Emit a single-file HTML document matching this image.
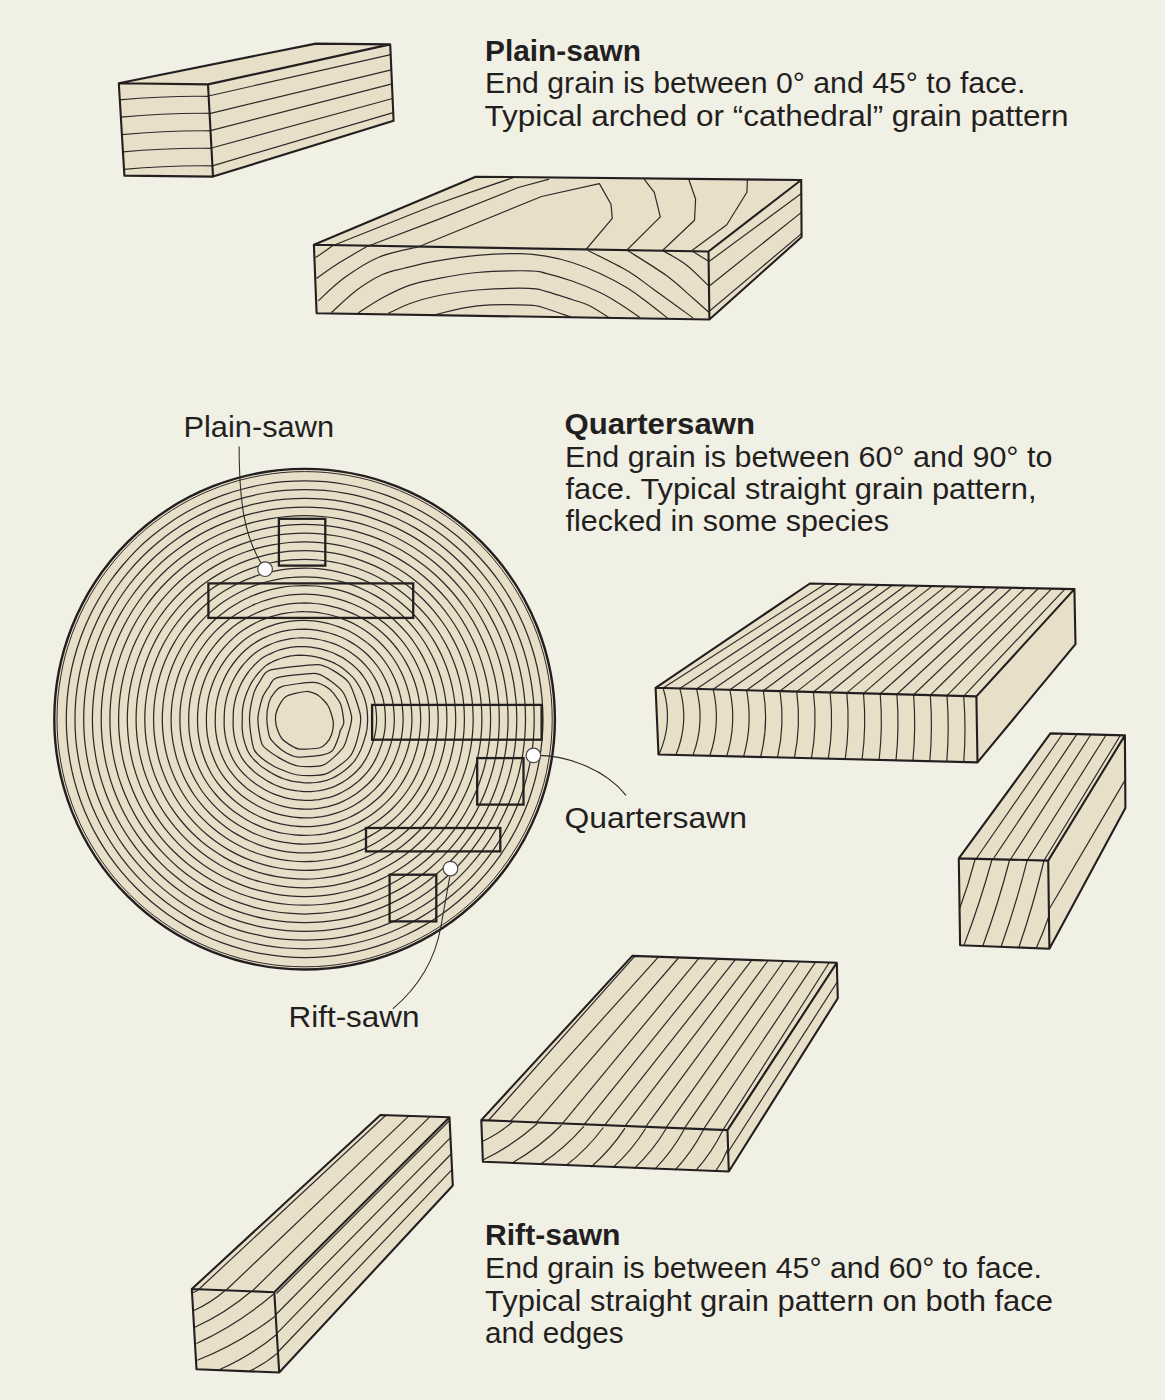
<!DOCTYPE html>
<html><head><meta charset="utf-8"><style>
html,body{margin:0;padding:0;background:#f1f0e5;}
body{width:1165px;height:1400px;overflow:hidden;font-family:"Liberation Sans", sans-serif;}
svg{display:block;}
</style></head><body>
<svg width="1165" height="1400" viewBox="0 0 1165 1400">
<rect width="1165" height="1400" fill="#f1f0e5"/>
<path d="M118.8,83.2 L315.9,43.6 L390.2,44.4 L393.6,120.8 L213,176.6 L124.4,175.6Z" fill="#e8dfc8" stroke="none"/>
<path d="M119.8,99.9 Q164.1,95.7 208.6,96.3" fill="none" stroke="#2e2a2a" stroke-width="1.2"/>
<path d="M120.9,117.2 Q165.1,112.9 209.6,113.3" fill="none" stroke="#2e2a2a" stroke-width="1.2"/>
<path d="M121.9,134.7 Q166.1,130.4 210.5,130.8" fill="none" stroke="#2e2a2a" stroke-width="1.2"/>
<path d="M123,151.9 Q167.1,147.7 211.5,148.3" fill="none" stroke="#2e2a2a" stroke-width="1.2"/>
<path d="M124,169.4 Q168.1,165.2 212.4,165.8" fill="none" stroke="#2e2a2a" stroke-width="1.2"/>
<path d="M208.6,96 L390.7,54.7" fill="none" stroke="#2e2a2a" stroke-width="1.2"/>
<path d="M209.6,113.6 L391.3,69.8" fill="none" stroke="#2e2a2a" stroke-width="1.2"/>
<path d="M210.5,130.6 L392,83.9" fill="none" stroke="#2e2a2a" stroke-width="1.2"/>
<path d="M211.4,148 L392.6,98.5" fill="none" stroke="#2e2a2a" stroke-width="1.2"/>
<path d="M212.4,165.8 L393.2,112.6" fill="none" stroke="#2e2a2a" stroke-width="1.2"/>
<path d="M118.8,83.2 L315.9,43.6 L390.2,44.4 L393.6,120.8 L213,176.6 L124.4,175.6Z M118.8,83.2 L208,84.4 L390.2,44.4 M208,84.4 L213,176.6" fill="none" stroke="#231f20" stroke-width="2.1" stroke-linejoin="round" stroke-linecap="round"/>
<path d="M313.9,244.8 L475.7,176.7 L801.2,180 L801.6,237 L709.4,319.5 L316.6,313.3Z" fill="#e8dfc8" stroke="none"/>
<path d="M315.6,257.6 C316.8,256.8 320.2,254.5 323,252.5 C325.8,250.5 330.9,246.9 332.5,245.8" fill="none" stroke="#2e2a2a" stroke-width="1.2"/>
<path d="M316.4,278.6 C319.6,276.3 327.4,270.2 335.8,264.9 C344.2,259.5 361.8,249.6 367,246.5" fill="none" stroke="#2e2a2a" stroke-width="1.2"/>
<path d="M318.2,300.9 C322.6,297 334.2,285.1 344.3,277.8 C354.4,270.5 366.4,262.3 378.7,257.2 C391,252.1 411.4,248.7 418,247" fill="none" stroke="#2e2a2a" stroke-width="1.2"/>
<path d="M331.5,312.5 C335.8,308.7 348.6,296.2 357.2,289.8 C365.8,283.4 375,277.9 383,274.3 C391,270.7 396.4,270.2 405,268 C413.6,265.8 422.2,263.4 434.3,261.3 C446.4,259.2 463,256.6 477.3,255.3 C491.6,254 508.8,253.4 520.2,253.6 C531.6,253.8 537.3,254.7 545.9,256.2 C554.5,257.7 563,259.6 572,262.5 C581,265.4 590.9,269.3 600,273.5 C609.1,277.7 619,283 626.5,287.5 C634,292 638.2,295.4 645,300.5 C651.8,305.6 663.8,315.1 667.5,318" fill="none" stroke="#2e2a2a" stroke-width="1.2"/>
<path d="M358.1,313 C362.2,310.4 374.4,302.1 383,297.5 C391.6,292.9 401.4,288.1 410,285.1 C418.6,282.1 423.1,281.4 434.3,279.3 C445.5,277.2 461.6,273.9 477.3,272.5 C493.1,271.1 517.4,270.7 528.8,270.8 C540.2,270.9 538.7,271.6 545.9,273.3 C553.1,275 563,277.8 572,281 C581,284.2 592,288.7 600,292.5 C608,296.3 613.4,299.8 620,304 C626.6,308.2 636.5,315.2 639.8,317.5" fill="none" stroke="#2e2a2a" stroke-width="1.2"/>
<path d="M388.1,313.4 C391.8,311.8 402.3,306.3 410,303.5 C417.7,300.7 423.1,298.8 434.3,296.5 C445.5,294.2 461.6,291.4 477.3,290 C493.1,288.6 517.4,288.1 528.8,288.3 C540.2,288.5 538.7,289.5 545.9,291.4 C553.1,293.3 564.6,297.1 572,299.5 C579.4,301.9 583.8,302.9 590,306 C596.2,309.1 606,315.9 609.2,317.9" fill="none" stroke="#2e2a2a" stroke-width="1.2"/>
<path d="M433.5,315 C440.8,313.5 461.4,307.5 477.3,305.9 C493.2,304.2 517.4,304.7 528.8,305.1 C540.2,305.5 538.7,306.4 545.9,308.5 C553.1,310.6 567.6,316 572,317.5" fill="none" stroke="#2e2a2a" stroke-width="1.2"/>
<path d="M588,250.5 C594.4,253.8 615.6,263.9 626.5,270.3 C637.4,276.7 642,281 653.1,288.9 C664.2,296.8 686.4,313.1 693,317.9" fill="none" stroke="#2e2a2a" stroke-width="1.2"/>
<path d="M628,250.8 C634.4,254.9 655.6,267.7 666.4,275.6 C677.2,283.5 685.9,292.1 693,298.2 C700.1,304.3 706.3,310 709,312.4" fill="none" stroke="#2e2a2a" stroke-width="1.2"/>
<path d="M663.5,251 C667.3,253.3 678.8,259.1 686.4,265 C694,270.9 705.2,282.7 709,286.2" fill="none" stroke="#2e2a2a" stroke-width="1.2"/>
<path d="M692,251 L709,261.5" fill="none" stroke="#2e2a2a" stroke-width="1.2"/>
<path d="M709,261.5 L801.3,193.4" fill="none" stroke="#2e2a2a" stroke-width="1.2"/>
<path d="M709,286.2 L801.4,212.4" fill="none" stroke="#2e2a2a" stroke-width="1.2"/>
<path d="M709,311.5 L801.5,233.6" fill="none" stroke="#2e2a2a" stroke-width="1.2"/>
<path d="M332.5,245.8 L433.3,205.5 L469.4,192.6 L513.1,177.7" fill="none" stroke="#2e2a2a" stroke-width="1.2" stroke-linejoin="round"/>
<path d="M367,246.5 L441,218.4 L518.3,187.5 L549.2,179.2" fill="none" stroke="#2e2a2a" stroke-width="1.2" stroke-linejoin="round"/>
<path d="M418,247 L541.5,196.5 L599.4,183.6 L611,204.2 L612.3,218.4 L586,249.5" fill="none" stroke="#2e2a2a" stroke-width="1.2" stroke-linejoin="round"/>
<path d="M644.3,179.4 L654.3,192.3 L660.3,216.9 L627,250" fill="none" stroke="#2e2a2a" stroke-width="1.2" stroke-linejoin="round"/>
<path d="M688.9,179.8 L695.6,199 L694.5,220.2 L662.5,250.5" fill="none" stroke="#2e2a2a" stroke-width="1.2" stroke-linejoin="round"/>
<path d="M747.4,180 L746.9,192.3 L726.8,224.7 L691.6,250.8" fill="none" stroke="#2e2a2a" stroke-width="1.2" stroke-linejoin="round"/>
<path d="M313.9,244.8 L475.7,176.7 L801.2,180 L801.6,237 L709.4,319.5 L316.6,313.3Z M313.9,244.8 L708.5,251.5 L801.2,180 M708.5,251.5 L709.4,319.5" fill="none" stroke="#231f20" stroke-width="2.1" stroke-linejoin="round" stroke-linecap="round"/>
<circle cx="304.6" cy="719.2" r="250.3" fill="#e8dfc8"/>
<path d="M287.4,695.7 C290.4,694.3 302.3,691.6 305.8,691.5 C309.4,691.4 315.5,693.5 318.1,695.2 C320.7,696.9 326.4,702.7 328.1,705.8 C329.9,708.9 332.8,718 333.2,721.4 C333.6,724.8 332.3,732.2 331.5,734.8 C330.7,737.4 327.4,742.2 325.9,743.7 C324.5,745.3 322.5,747.4 319.2,748 C316,748.6 302.3,749.8 298,748.8 C293.7,747.7 284.9,741.9 282.4,739.3 C279.9,736.6 277,728.7 276.3,725.9 C275.5,723 275.3,717.3 275.7,714.7 C276.2,712.1 278.8,705.8 280.2,703.6 C281.5,701.3 284.4,697.2 287.4,695.7Z" fill="none" stroke="#2e2a2a" stroke-width="1.25"/>
<path d="M282.4,686.3 C287,685.1 308.2,682 313.6,682.4 C319.1,682.7 326.1,686.6 329.3,689.1 C332.4,691.5 338.7,699.7 340.4,703.6 C342.1,707.5 343.8,719.4 343.8,722.5 C343.8,725.7 341.1,728.5 340.4,730.3 C339.8,732.2 339.1,735.8 338.2,738.1 C337.3,740.5 334.4,748.5 332.6,750.4 C330.8,752.4 326.6,754.1 322.6,754.9 C318.5,755.7 302.7,757.6 298,757.1 C293.3,756.6 285.7,752.6 282.4,750.4 C279.1,748.2 271.9,741.8 270.1,738.1 C268.3,734.5 266.9,723.3 266.8,719.2 C266.6,715 268.1,705.6 269,702.4 C269.9,699.3 273,694.3 274.6,692.4 C276.2,690.5 277.8,687.4 282.4,686.3Z" fill="none" stroke="#2e2a2a" stroke-width="1.25"/>
<path d="M276.8,677.9 C282.2,676.3 308.6,673.2 314.8,673.4 C320.9,673.7 325.9,677.8 329.3,680.1 C332.7,682.5 341.2,689.2 343.8,693.5 C346.4,697.8 351.1,712.3 351.6,716.9 C352.1,721.6 349.3,730 348.2,733.7 C347.2,737.3 345.5,744.5 342.7,748.2 C339.8,751.8 328.9,762.8 323.7,764.9 C318.5,767 303.4,767 298,766 C292.7,765.1 282.1,759.6 277.9,757.1 C273.8,754.6 264.7,749.3 262.3,744.8 C260,740.4 257.9,724.6 257.9,719.2 C257.9,713.7 261,701.8 262.3,698 C263.6,694.2 267.3,689.2 269,686.8 C270.7,684.5 271.5,679.5 276.8,677.9Z" fill="none" stroke="#2e2a2a" stroke-width="1.25"/>
<path d="M270.1,670.1 C276.8,668.1 309.7,664.5 317,664.5 C324.3,664.5 328.8,667.9 332.6,670.1 C336.4,672.3 346.1,678.1 349.4,683.5 C352.6,688.8 359.6,709.3 360.5,715.8 C361.4,722.3 358.5,734.4 357.2,739.3 C355.9,744.1 353,753.1 349.4,757.1 C345.7,761.2 331.9,771.8 325.9,773.9 C319.9,775.9 304.1,775.9 298,775 C291.9,774.1 278.6,768.9 273.5,766 C268.4,763.2 257.3,755.9 254.5,750.4 C251.7,745 249.6,725.7 249.5,719.2 C249.4,712.7 252.2,699.1 253.4,694.6 C254.6,690.2 258.1,684.1 260.1,681.2 C262,678.4 263.5,672 270.1,670.1Z" fill="none" stroke="#2e2a2a" stroke-width="1.25"/>
<path d="M367.6,719.2 C367.6,721 367.6,722.9 367.4,724.7 C367.3,726.5 367.1,728.4 366.8,730.2 C366.4,732 366.1,733.8 365.6,735.5 C365.1,737.3 364.5,739.1 364,740.8 C363.4,742.6 362.9,744.3 362.2,746.1 C361.6,747.8 360.9,749.5 360.1,751.2 C359.3,752.9 358.4,754.6 357.5,756.2 C356.5,757.9 355.6,759.5 354.4,761 C353.3,762.5 351.9,763.9 350.6,765.2 C349.3,766.5 347.9,767.8 346.4,769 C345,770.3 343.5,771.4 341.9,772.5 C340.4,773.6 338.8,774.6 337.1,775.6 C335.5,776.5 333.8,777.4 332.1,778.2 C330.4,779 328.6,779.7 326.8,780.3 C325,780.8 323.2,781.3 321.3,781.6 C319.5,782 317.6,782.3 315.8,782.5 C313.9,782.7 312,782.8 310.2,782.9 C308.3,782.9 306.4,782.9 304.6,782.8 C302.8,782.7 300.9,782.4 299.1,782.2 C297.3,782 295.4,781.7 293.6,781.4 C291.8,781 290,780.7 288.3,780.2 C286.5,779.7 284.7,779.2 283,778.5 C281.3,777.9 279.6,777.2 277.9,776.4 C276.2,775.7 274.6,774.8 273,773.9 C271.4,773 269.9,772 268.3,771.1 C266.7,770.1 265.1,769.1 263.6,768 C262.1,767 260.6,765.8 259.2,764.6 C257.8,763.4 256.4,762.1 255.1,760.8 C253.8,759.4 252.4,758 251.3,756.5 C250.1,755 249,753.5 248.2,751.8 C247.3,750.1 246.6,748.3 246,746.5 C245.3,744.8 244.7,743 244.3,741.2 C243.8,739.4 243.4,737.5 243,735.7 C242.7,733.9 242.5,732 242.3,730.2 C242.1,728.3 242.1,726.5 242.1,724.7 C242.1,722.8 242.3,721 242.3,719.2 C242.3,717.4 242.2,715.6 242.3,713.7 C242.4,711.9 242.5,710.1 242.7,708.3 C243,706.5 243.3,704.7 243.7,702.9 C244.1,701.1 244.5,699.3 245.1,697.5 C245.6,695.8 246.3,694.1 247,692.3 C247.7,690.6 248.4,688.9 249.2,687.2 C250,685.5 250.8,683.8 251.8,682.2 C252.8,680.6 253.8,679 254.9,677.5 C256,675.9 257.2,674.5 258.4,673 C259.7,671.6 261,670.2 262.4,668.9 C263.7,667.5 265.1,666.1 266.7,665 C268.2,663.9 270,663.1 271.7,662.2 C273.4,661.4 275.2,660.6 276.9,659.9 C278.7,659.2 280.5,658.5 282.3,658 C284.1,657.4 286,657 287.8,656.6 C289.7,656.2 291.5,655.9 293.4,655.7 C295.3,655.4 297.1,655.3 299,655.2 C300.9,655.2 302.7,655.2 304.6,655.3 C306.5,655.4 308.3,655.6 310.1,655.9 C312,656.2 313.8,656.5 315.6,656.9 C317.4,657.3 319.2,657.8 320.9,658.2 C322.7,658.7 324.5,659.2 326.2,659.8 C328,660.4 329.7,661.1 331.4,661.8 C333,662.6 334.7,663.4 336.3,664.3 C337.9,665.2 339.5,666.1 341.1,667.1 C342.6,668.2 344.1,669.3 345.5,670.4 C347,671.6 348.4,672.8 349.7,674.1 C351.1,675.4 352.4,676.7 353.6,678.1 C354.8,679.5 355.9,681 356.9,682.6 C358,684.1 358.9,685.7 359.8,687.3 C360.7,689 361.5,690.6 362.2,692.3 C363,694 363.6,695.7 364.2,697.5 C364.8,699.2 365.3,701 365.8,702.8 C366.2,704.6 366.6,706.4 366.8,708.2 C367.1,710 367.3,711.9 367.4,713.7 C367.5,715.5 367.6,717.4 367.6,719.2Z" fill="none" stroke="#2e2a2a" stroke-width="1.25"/>
<path d="M376.6,719.2 C376.6,721.3 376.5,723.4 376.3,725.5 C376.1,727.6 375.9,729.6 375.5,731.7 C375.2,733.8 374.7,735.8 374.2,737.8 C373.7,739.9 373,741.9 372.3,743.9 C371.7,745.8 371,747.8 370.2,749.8 C369.4,751.8 368.6,753.7 367.6,755.6 C366.7,757.5 365.6,759.3 364.5,761.2 C363.4,763 362.2,764.8 360.9,766.5 C359.6,768.1 358.1,769.7 356.6,771.2 C355.1,772.7 353.5,774.2 351.9,775.5 C350.2,776.9 348.5,778.2 346.8,779.4 C345,780.7 343.2,781.8 341.4,782.9 C339.5,784 337.6,785 335.7,785.9 C333.7,786.7 331.8,787.6 329.7,788.2 C327.7,788.9 325.6,789.4 323.5,789.9 C321.5,790.4 319.4,790.7 317.3,791 C315.2,791.3 313,791.5 310.9,791.6 C308.8,791.7 306.7,791.7 304.6,791.6 C302.5,791.5 300.4,791.3 298.3,791 C296.2,790.8 294.2,790.5 292.1,790.1 C290,789.8 288,789.3 286,788.8 C283.9,788.2 281.9,787.6 280,786.9 C278,786.2 276,785.4 274.1,784.5 C272.2,783.6 270.4,782.6 268.6,781.6 C266.7,780.6 265,779.5 263.2,778.3 C261.4,777.2 259.7,776 258,774.8 C256.3,773.5 254.7,772.1 253.1,770.7 C251.5,769.3 250,767.8 248.5,766.3 C247.1,764.7 245.6,763.1 244.3,761.4 C243.1,759.7 241.9,757.9 240.8,756 C239.8,754.1 239,752.1 238.2,750.2 C237.4,748.2 236.7,746.2 236.1,744.1 C235.5,742.1 235,740 234.6,738 C234.1,735.9 233.8,733.8 233.6,731.7 C233.3,729.6 233.2,727.5 233.1,725.5 C233.1,723.4 233.2,721.3 233.2,719.2 C233.2,717.1 233.2,715 233.3,713 C233.4,710.9 233.6,708.8 233.9,706.7 C234.2,704.7 234.6,702.6 235.1,700.6 C235.5,698.5 236.1,696.5 236.8,694.5 C237.4,692.5 238.2,690.6 239,688.6 C239.8,686.7 240.7,684.7 241.6,682.8 C242.6,681 243.6,679.1 244.7,677.3 C245.9,675.5 247.1,673.7 248.4,672 C249.6,670.3 251,668.7 252.5,667.1 C253.9,665.5 255.4,663.9 257,662.5 C258.6,661 260.2,659.5 261.9,658.3 C263.7,657 265.6,656 267.5,655 C269.5,654 271.4,653.1 273.4,652.3 C275.4,651.4 277.4,650.7 279.4,650 C281.5,649.4 283.5,648.8 285.6,648.3 C287.7,647.9 289.8,647.5 291.9,647.2 C294,646.9 296.1,646.7 298.2,646.6 C300.4,646.5 302.5,646.5 304.6,646.6 C306.7,646.7 308.8,646.8 310.9,647.1 C313,647.4 315.1,647.8 317.1,648.2 C319.2,648.6 321.2,649.1 323.2,649.6 C325.3,650.2 327.3,650.8 329.3,651.5 C331.2,652.1 333.2,652.9 335.1,653.8 C337,654.6 338.9,655.6 340.7,656.6 C342.6,657.6 344.4,658.7 346.1,659.9 C347.8,661.1 349.5,662.4 351.2,663.7 C352.8,665 354.4,666.4 355.9,667.9 C357.4,669.4 358.9,670.9 360.3,672.5 C361.6,674.1 362.9,675.8 364.1,677.5 C365.3,679.3 366.4,681.1 367.4,682.9 C368.4,684.8 369.4,686.7 370.2,688.6 C371.1,690.5 371.8,692.5 372.5,694.5 C373.2,696.5 373.8,698.5 374.3,700.5 C374.8,702.6 375.3,704.6 375.6,706.7 C375.9,708.8 376.1,710.8 376.3,712.9 C376.5,715 376.6,717.1 376.6,719.2Z" fill="none" stroke="#2e2a2a" stroke-width="1.25"/>
<path d="M385.4,719.2 C385.4,721.5 385.3,723.9 385.2,726.2 C385,728.6 384.7,730.9 384.3,733.2 C383.9,735.6 383.4,737.9 382.8,740.1 C382.2,742.4 381.4,744.7 380.7,746.9 C379.9,749.1 379.1,751.3 378.2,753.5 C377.3,755.7 376.3,757.8 375.2,759.9 C374.1,762 372.9,764.1 371.6,766.1 C370.3,768.1 368.9,770.1 367.5,771.9 C366,773.8 364.3,775.5 362.6,777.2 C361,778.9 359.2,780.5 357.4,782.1 C355.5,783.6 353.6,785.1 351.7,786.4 C349.7,787.8 347.7,789.1 345.6,790.3 C343.6,791.5 341.5,792.6 339.3,793.6 C337.1,794.6 334.9,795.5 332.7,796.3 C330.4,797 328.1,797.7 325.8,798.2 C323.5,798.8 321.1,799.2 318.8,799.6 C316.4,799.9 314.1,800.1 311.7,800.3 C309.3,800.4 307,800.4 304.6,800.4 C302.2,800.3 299.9,800.1 297.5,799.9 C295.2,799.6 292.9,799.3 290.6,798.9 C288.2,798.4 285.9,797.9 283.7,797.3 C281.4,796.7 279.1,796 276.9,795.2 C274.7,794.4 272.5,793.5 270.4,792.5 C268.3,791.5 266.2,790.4 264.1,789.3 C262.1,788.1 260.1,786.9 258.1,785.6 C256.2,784.3 254.2,782.9 252.4,781.5 C250.5,780 248.7,778.5 246.9,776.9 C245.2,775.2 243.5,773.6 241.9,771.8 C240.3,770 238.8,768.2 237.4,766.3 C236,764.4 234.6,762.4 233.5,760.3 C232.3,758.2 231.3,756 230.4,753.8 C229.5,751.6 228.7,749.4 228,747.1 C227.2,744.8 226.6,742.5 226.1,740.2 C225.6,737.9 225.2,735.6 224.9,733.3 C224.5,730.9 224.3,728.6 224.2,726.2 C224.1,723.9 224.2,721.5 224.2,719.2 C224.2,716.9 224.2,714.5 224.4,712.2 C224.5,709.8 224.8,707.5 225.1,705.2 C225.5,702.9 225.9,700.6 226.5,698.3 C227.1,696 227.7,693.7 228.5,691.5 C229.2,689.3 230.1,687.1 231,684.9 C232,682.7 233,680.6 234.1,678.5 C235.2,676.4 236.4,674.3 237.7,672.3 C239,670.3 240.3,668.4 241.8,666.5 C243.3,664.6 244.8,662.8 246.5,661.1 C248.1,659.3 249.8,657.6 251.6,656 C253.4,654.4 255.2,652.8 257.2,651.4 C259.1,650.1 261.2,648.9 263.3,647.7 C265.5,646.6 267.6,645.5 269.8,644.6 C272,643.6 274.2,642.8 276.5,642 C278.8,641.3 281.1,640.6 283.4,640.1 C285.7,639.5 288.1,639.1 290.4,638.7 C292.8,638.4 295.1,638.1 297.5,638 C299.9,637.8 302.2,637.8 304.6,637.9 C307,637.9 309.3,638.1 311.7,638.4 C314,638.6 316.3,639 318.7,639.5 C321,639.9 323.3,640.5 325.5,641.1 C327.8,641.7 330.1,642.4 332.3,643.1 C334.5,643.9 336.7,644.8 338.8,645.8 C341,646.8 343.1,647.8 345.1,649 C347.2,650.1 349.2,651.4 351.1,652.7 C353.1,654.1 355,655.5 356.8,657 C358.6,658.5 360.4,660.1 362.1,661.7 C363.8,663.4 365.4,665.1 366.9,666.9 C368.5,668.7 369.9,670.6 371.2,672.5 C372.6,674.5 373.8,676.5 375,678.6 C376.1,680.6 377.2,682.7 378.2,684.9 C379.1,687 380,689.2 380.8,691.5 C381.6,693.7 382.3,696 382.9,698.2 C383.4,700.5 383.9,702.8 384.3,705.1 C384.7,707.5 384.9,709.8 385.1,712.2 C385.3,714.5 385.4,716.9 385.4,719.2Z" fill="none" stroke="#2e2a2a" stroke-width="1.25"/>
<path d="M394.3,719.2 C394.3,721.8 394.2,724.4 394,727 C393.7,729.6 393.4,732.2 393,734.8 C392.5,737.3 391.9,739.9 391.3,742.4 C390.6,744.9 389.8,747.4 388.9,749.9 C388.1,752.4 387.2,754.8 386.1,757.2 C385.1,759.6 383.9,762 382.7,764.3 C381.4,766.6 380.1,768.9 378.7,771.1 C377.2,773.2 375.7,775.4 374,777.5 C372.4,779.5 370.6,781.4 368.7,783.3 C366.8,785.2 364.9,786.9 362.9,788.6 C360.8,790.3 358.8,791.9 356.6,793.5 C354.4,795 352.2,796.4 349.9,797.7 C347.6,799 345.3,800.2 342.9,801.4 C340.5,802.5 338.1,803.5 335.6,804.3 C333.1,805.2 330.6,805.9 328,806.6 C325.5,807.2 322.9,807.7 320.3,808.1 C317.7,808.5 315.1,808.8 312.5,809 C309.8,809.1 307.2,809.2 304.6,809.1 C302,809.1 299.4,808.9 296.8,808.6 C294.2,808.4 291.6,808 289,807.6 C286.5,807.1 283.9,806.5 281.4,805.9 C278.9,805.2 276.4,804.4 273.9,803.5 C271.5,802.6 269,801.6 266.7,800.5 C264.3,799.4 262,798.2 259.7,796.9 C257.5,795.6 255.3,794.2 253.1,792.8 C250.9,791.3 248.8,789.8 246.7,788.2 C244.7,786.5 242.7,784.8 240.8,783 C238.9,781.2 237.1,779.3 235.3,777.3 C233.6,775.4 231.9,773.3 230.3,771.2 C228.8,769.1 227.3,766.8 226.1,764.5 C224.8,762.3 223.7,759.8 222.6,757.4 C221.6,755 220.6,752.6 219.8,750.1 C219,747.6 218.3,745 217.7,742.5 C217,740 216.6,737.4 216.2,734.8 C215.8,732.2 215.5,729.6 215.4,727 C215.2,724.4 215.2,721.8 215.3,719.2 C215.3,716.6 215.3,714 215.5,711.4 C215.7,708.8 216,706.2 216.4,703.6 C216.8,701.1 217.3,698.5 218,696 C218.6,693.5 219.3,690.9 220.2,688.5 C221.1,686 222,683.6 223.1,681.2 C224.1,678.8 225.3,676.4 226.5,674.1 C227.8,671.8 229.1,669.6 230.6,667.4 C232,665.2 233.6,663 235.2,661 C236.9,658.9 238.6,656.9 240.4,655 C242.2,653.1 244.2,651.3 246.1,649.5 C248.1,647.8 250.2,646.1 252.3,644.5 C254.5,643 256.8,641.7 259.1,640.4 C261.4,639.1 263.8,637.9 266.2,636.9 C268.6,635.8 271.1,634.8 273.6,634 C276.1,633.1 278.6,632.4 281.2,631.7 C283.7,631.1 286.3,630.6 288.9,630.2 C291.5,629.8 294.1,629.5 296.7,629.3 C299.4,629.1 302,629.1 304.6,629.1 C307.2,629.2 309.8,629.3 312.4,629.6 C315,629.9 317.6,630.3 320.2,630.8 C322.8,631.3 325.3,631.9 327.8,632.5 C330.3,633.2 332.8,634 335.3,634.8 C337.8,635.7 340.2,636.7 342.6,637.8 C344.9,638.9 347.3,640.1 349.5,641.4 C351.8,642.7 354,644.1 356.2,645.5 C358.3,647 360.4,648.6 362.4,650.3 C364.5,651.9 366.4,653.7 368.3,655.5 C370.1,657.4 371.9,659.3 373.6,661.3 C375.3,663.3 376.9,665.4 378.4,667.5 C379.9,669.7 381.3,671.9 382.6,674.2 C383.8,676.5 385,678.8 386.1,681.2 C387.2,683.6 388.2,686 389.1,688.5 C389.9,690.9 390.7,693.4 391.4,696 C392,698.5 392.6,701 393,703.6 C393.4,706.2 393.7,708.8 393.9,711.4 C394.2,714 394.3,716.6 394.3,719.2Z" fill="none" stroke="#2e2a2a" stroke-width="1.25"/>
<path d="M403.1,719.2 C403.1,722.1 403,724.9 402.7,727.8 C402.5,730.6 402.1,733.5 401.6,736.3 C401.1,739.1 400.5,741.9 399.8,744.7 C399,747.5 398.2,750.2 397.2,752.9 C396.3,755.6 395.2,758.3 394.1,760.9 C392.9,763.5 391.6,766.1 390.2,768.6 C388.8,771.2 387.3,773.6 385.7,776 C384.1,778.4 382.4,780.8 380.6,783 C378.8,785.2 376.8,787.3 374.8,789.4 C372.7,791.4 370.6,793.4 368.4,795.2 C366.2,797.1 363.9,798.8 361.5,800.5 C359.2,802.2 356.7,803.7 354.2,805.2 C351.7,806.6 349.2,807.9 346.5,809.2 C343.9,810.4 341.3,811.5 338.5,812.4 C335.8,813.4 333,814.2 330.2,814.9 C327.5,815.6 324.6,816.2 321.8,816.7 C318.9,817.1 316.1,817.4 313.2,817.7 C310.3,817.9 307.5,817.9 304.6,817.9 C301.7,817.9 298.9,817.7 296,817.4 C293.2,817.1 290.3,816.7 287.5,816.2 C284.7,815.7 281.9,815.1 279.1,814.4 C276.3,813.6 273.6,812.8 270.9,811.8 C268.2,810.8 265.5,809.7 263,808.5 C260.4,807.3 257.8,806 255.3,804.5 C252.8,803.1 250.4,801.6 248,800 C245.7,798.4 243.3,796.7 241.1,794.9 C238.9,793.1 236.7,791.1 234.6,789.2 C232.6,787.2 230.6,785.1 228.7,782.9 C226.8,780.7 225,778.5 223.3,776.1 C221.6,773.8 220,771.4 218.6,768.8 C217.2,766.3 215.9,763.7 214.8,761.1 C213.6,758.5 212.6,755.8 211.6,753 C210.7,750.3 209.9,747.5 209.2,744.8 C208.5,742 208,739.1 207.5,736.3 C207.1,733.5 206.8,730.6 206.6,727.8 C206.4,724.9 206.4,722.1 206.4,719.2 C206.4,716.3 206.4,713.5 206.7,710.6 C206.9,707.8 207.2,704.9 207.7,702.1 C208.1,699.3 208.7,696.5 209.4,693.7 C210.2,690.9 211,688.2 211.9,685.5 C212.9,682.8 214,680.1 215.1,677.5 C216.3,674.9 217.6,672.3 219,669.8 C220.4,667.3 221.9,664.8 223.5,662.4 C225.1,660 226.8,657.7 228.6,655.4 C230.4,653.2 232.3,651 234.4,649 C236.4,646.9 238.5,644.9 240.6,643 C242.8,641.1 245.1,639.2 247.5,637.6 C249.8,635.9 252.3,634.4 254.8,633 C257.4,631.6 260,630.3 262.6,629.1 C265.2,627.9 267.9,626.9 270.6,625.9 C273.4,625 276.1,624.1 278.9,623.4 C281.7,622.7 284.6,622.1 287.4,621.7 C290.2,621.2 293.1,620.9 296,620.6 C298.8,620.4 301.7,620.4 304.6,620.4 C307.5,620.4 310.3,620.6 313.2,620.9 C316.1,621.2 318.9,621.6 321.7,622.1 C324.5,622.7 327.3,623.3 330.1,624 C332.9,624.8 335.6,625.6 338.3,626.6 C341,627.5 343.7,628.6 346.3,629.8 C348.9,631 351.4,632.4 353.9,633.8 C356.4,635.2 358.8,636.7 361.2,638.4 C363.6,640 365.9,641.7 368.1,643.6 C370.3,645.4 372.4,647.3 374.5,649.3 C376.5,651.4 378.5,653.5 380.3,655.7 C382.2,657.9 383.9,660.2 385.5,662.5 C387.2,664.9 388.7,667.3 390.1,669.8 C391.5,672.3 392.9,674.9 394.1,677.5 C395.3,680.1 396.3,682.8 397.3,685.5 C398.3,688.2 399.1,690.9 399.8,693.7 C400.6,696.5 401.2,699.3 401.7,702.1 C402.1,704.9 402.5,707.8 402.7,710.6 C403,713.5 403.1,716.3 403.1,719.2Z" fill="none" stroke="#2e2a2a" stroke-width="1.25"/>
<path d="M411.9,719.2 C411.9,722.3 411.8,725.4 411.5,728.6 C411.2,731.7 410.8,734.8 410.3,737.8 C409.7,740.9 409.1,744 408.3,747 C407.5,750 406.5,753 405.5,755.9 C404.4,758.9 403.3,761.8 402,764.6 C400.7,767.5 399.3,770.3 397.8,773 C396.3,775.7 394.6,778.4 392.8,781 C391.1,783.6 389.2,786.1 387.2,788.5 C385.2,791 383.1,793.3 380.9,795.5 C378.7,797.7 376.3,799.8 373.9,801.8 C371.5,803.9 369,805.8 366.5,807.6 C363.9,809.4 361.3,811.1 358.5,812.6 C355.8,814.2 353,815.7 350.2,817 C347.4,818.3 344.4,819.5 341.5,820.6 C338.5,821.6 335.5,822.5 332.5,823.3 C329.5,824.1 326.4,824.7 323.3,825.2 C320.2,825.7 317.1,826.1 314,826.3 C310.9,826.6 307.7,826.7 304.6,826.7 C301.5,826.6 298.3,826.4 295.2,826.1 C292.1,825.8 289,825.4 286,824.9 C282.9,824.3 279.8,823.7 276.8,822.9 C273.8,822.1 270.8,821.1 267.9,820.1 C265,819 262.1,817.8 259.2,816.5 C256.4,815.2 253.6,813.7 250.9,812.2 C248.2,810.6 245.6,808.9 243,807.2 C240.4,805.4 237.9,803.5 235.5,801.5 C233.1,799.6 230.7,797.5 228.5,795.3 C226.3,793.1 224.1,790.8 222.1,788.5 C220,786.1 218,783.6 216.2,781.1 C214.4,778.5 212.7,775.9 211.1,773.2 C209.6,770.4 208.2,767.6 206.9,764.7 C205.6,761.9 204.5,759 203.5,756 C202.4,753.1 201.5,750.1 200.8,747 C200,744 199.4,740.9 198.9,737.8 C198.4,734.8 198,731.7 197.8,728.5 C197.6,725.4 197.5,722.3 197.5,719.2 C197.5,716.1 197.6,713 197.9,709.9 C198.1,706.8 198.5,703.7 199,700.6 C199.5,697.5 200.2,694.4 201,691.4 C201.7,688.4 202.7,685.4 203.7,682.5 C204.7,679.5 205.9,676.6 207.2,673.8 C208.5,670.9 209.9,668.1 211.4,665.4 C213,662.7 214.6,660 216.4,657.4 C218.1,654.8 220,652.3 222,649.9 C224,647.5 226.1,645.1 228.3,642.9 C230.5,640.6 232.8,638.5 235.1,636.4 C237.5,634.4 240,632.4 242.5,630.6 C245.1,628.8 247.8,627.1 250.6,625.6 C253.3,624 256.1,622.6 259,621.3 C261.8,620 264.7,618.8 267.7,617.8 C270.7,616.8 273.7,615.8 276.7,615.1 C279.7,614.3 282.8,613.6 285.9,613.1 C289,612.6 292.1,612.2 295.2,612 C298.3,611.7 301.5,611.6 304.6,611.7 C307.7,611.7 310.9,611.9 314,612.2 C317.1,612.5 320.2,612.9 323.2,613.5 C326.3,614 329.4,614.7 332.4,615.5 C335.4,616.4 338.4,617.3 341.3,618.3 C344.2,619.4 347.1,620.6 350,621.9 C352.8,623.2 355.6,624.6 358.3,626.2 C361,627.7 363.7,629.4 366.2,631.2 C368.8,633 371.3,634.9 373.7,636.9 C376.1,638.9 378.4,641 380.6,643.2 C382.8,645.4 385,647.7 387,650.1 C389,652.5 390.9,655 392.7,657.5 C394.5,660.1 396.1,662.7 397.7,665.5 C399.2,668.2 400.7,671 402,673.8 C403.3,676.6 404.5,679.5 405.5,682.5 C406.6,685.4 407.5,688.4 408.3,691.4 C409.1,694.4 409.8,697.5 410.3,700.6 C410.8,703.6 411.2,706.7 411.5,709.8 C411.8,713 411.9,716.1 411.9,719.2Z" fill="none" stroke="#2e2a2a" stroke-width="1.25"/>
<path d="M420.7,719.2 C420.7,722.6 420.5,726 420.2,729.3 C419.9,732.7 419.5,736 418.9,739.4 C418.3,742.7 417.6,746 416.7,749.2 C415.9,752.5 414.8,755.7 413.7,758.9 C412.6,762.1 411.3,765.2 409.9,768.3 C408.5,771.4 407,774.4 405.3,777.4 C403.7,780.3 401.9,783.2 400,786 C398.1,788.8 396,791.5 393.9,794.1 C391.7,796.7 389.4,799.2 387,801.6 C384.6,804 382.1,806.3 379.5,808.5 C376.9,810.6 374.2,812.7 371.4,814.7 C368.7,816.6 365.8,818.4 362.9,820.1 C359.9,821.8 356.9,823.4 353.8,824.8 C350.8,826.2 347.6,827.5 344.4,828.7 C341.3,829.8 338,830.8 334.7,831.7 C331.5,832.5 328.1,833.2 324.8,833.8 C321.5,834.3 318.1,834.8 314.7,835 C311.4,835.3 308,835.4 304.6,835.4 C301.2,835.4 297.8,835.2 294.5,834.9 C291.1,834.6 287.8,834.1 284.4,833.5 C281.1,832.9 277.8,832.2 274.6,831.3 C271.3,830.5 268.1,829.4 264.9,828.3 C261.7,827.1 258.6,825.8 255.5,824.4 C252.5,823 249.5,821.4 246.5,819.7 C243.6,818.1 240.8,816.2 238,814.3 C235.2,812.4 232.5,810.4 229.9,808.2 C227.3,806.1 224.8,803.8 222.3,801.5 C219.9,799.1 217.6,796.6 215.4,794 C213.2,791.5 211.1,788.8 209.1,786 C207.2,783.3 205.3,780.4 203.7,777.5 C202,774.5 200.5,771.5 199.1,768.4 C197.7,765.3 196.4,762.2 195.3,759 C194.2,755.8 193.2,752.6 192.3,749.3 C191.5,746 190.8,742.7 190.2,739.4 C189.7,736 189.3,732.7 189,729.3 C188.8,726 188.7,722.6 188.7,719.2 C188.7,715.8 188.8,712.5 189.1,709.1 C189.4,705.7 189.8,702.4 190.3,699.1 C190.9,695.7 191.6,692.4 192.5,689.2 C193.3,685.9 194.3,682.7 195.5,679.5 C196.6,676.3 197.9,673.2 199.3,670.1 C200.7,667 202.2,664 203.9,661.1 C205.6,658.1 207.3,655.2 209.3,652.4 C211.2,649.7 213.2,646.9 215.4,644.3 C217.5,641.7 219.8,639.2 222.2,636.8 C224.5,634.3 227,632 229.6,629.8 C232.2,627.6 234.9,625.5 237.6,623.6 C240.4,621.6 243.3,619.8 246.3,618.1 C249.2,616.5 252.2,614.9 255.3,613.5 C258.4,612.1 261.5,610.8 264.7,609.7 C267.9,608.5 271.2,607.5 274.5,606.7 C277.7,605.8 281.1,605.1 284.4,604.6 C287.7,604 291.1,603.6 294.5,603.3 C297.8,603 301.2,602.9 304.6,602.9 C308,603 311.4,603.1 314.7,603.5 C318.1,603.8 321.4,604.2 324.8,604.8 C328.1,605.4 331.4,606.2 334.6,607.1 C337.9,607.9 341.1,608.9 344.3,610.1 C347.5,611.2 350.6,612.5 353.7,613.9 C356.7,615.4 359.8,616.9 362.7,618.6 C365.6,620.3 368.5,622.1 371.2,624 C374,626 376.7,628 379.3,630.2 C381.9,632.3 384.4,634.6 386.8,637 C389.2,639.4 391.5,641.9 393.7,644.5 C395.8,647 397.9,649.7 399.8,652.5 C401.8,655.3 403.6,658.2 405.3,661.1 C406.9,664 408.5,667 409.9,670.1 C411.3,673.2 412.6,676.3 413.8,679.5 C414.9,682.6 415.9,685.9 416.8,689.1 C417.6,692.4 418.4,695.7 418.9,699 C419.5,702.4 419.9,705.7 420.2,709.1 C420.5,712.4 420.7,715.8 420.7,719.2Z" fill="none" stroke="#2e2a2a" stroke-width="1.25"/>
<path d="M429.4,719.2 C429.4,722.8 429.3,726.5 429,730.1 C428.7,733.7 428.2,737.3 427.6,740.9 C426.9,744.5 426.1,748 425.2,751.5 C424.3,755 423.2,758.5 421.9,761.9 C420.7,765.3 419.3,768.7 417.8,772 C416.3,775.3 414.7,778.6 412.9,781.7 C411.1,784.9 409.1,788 407.1,791 C405,794 402.8,796.9 400.5,799.7 C398.2,802.5 395.7,805.2 393.1,807.7 C390.6,810.3 387.9,812.8 385.1,815.1 C382.3,817.4 379.4,819.7 376.4,821.8 C373.4,823.8 370.3,825.8 367.2,827.6 C364,829.4 360.8,831.1 357.5,832.7 C354.2,834.2 350.8,835.6 347.4,836.8 C344,838.1 340.5,839.1 337,840.1 C333.5,841 329.9,841.7 326.3,842.4 C322.7,843 319.1,843.4 315.5,843.7 C311.9,844 308.2,844.2 304.6,844.1 C301,844.1 297.3,843.9 293.7,843.6 C290.1,843.3 286.5,842.8 282.9,842.2 C279.3,841.5 275.8,840.7 272.3,839.8 C268.8,838.9 265.3,837.8 261.9,836.5 C258.5,835.3 255.1,833.9 251.8,832.4 C248.5,830.8 245.3,829.1 242.2,827.3 C239,825.5 236,823.6 233,821.5 C230,819.4 227.1,817.2 224.3,814.9 C221.5,812.6 218.8,810.2 216.2,807.6 C213.6,805.1 211.1,802.4 208.8,799.6 C206.4,796.9 204.1,794 202,791 C199.9,788 198,785 196.2,781.8 C194.4,778.7 192.7,775.4 191.2,772.1 C189.7,768.8 188.3,765.4 187.1,762 C185.9,758.5 184.8,755.1 183.9,751.5 C183,748 182.2,744.5 181.6,740.9 C181,737.3 180.6,733.7 180.3,730.1 C180,726.5 179.9,722.8 179.9,719.2 C179.9,715.6 180,711.9 180.3,708.3 C180.6,704.7 181.1,701.1 181.7,697.5 C182.3,694 183.1,690.4 184,686.9 C184.9,683.4 186,679.9 187.2,676.5 C188.5,673.1 189.9,669.7 191.4,666.4 C192.9,663.1 194.5,659.9 196.3,656.7 C198.1,653.5 200.1,650.4 202.1,647.5 C204.2,644.5 206.4,641.5 208.7,638.7 C211,635.9 213.5,633.2 216,630.6 C218.6,628.1 221.3,625.6 224.1,623.2 C226.8,620.8 229.7,618.6 232.7,616.5 C235.7,614.4 238.8,612.5 241.9,610.7 C245.1,608.9 248.4,607.2 251.7,605.7 C255,604.1 258.4,602.8 261.8,601.5 C265.2,600.3 268.7,599.2 272.2,598.3 C275.7,597.4 279.3,596.6 282.9,596 C286.5,595.4 290.1,594.9 293.7,594.6 C297.3,594.3 301,594.2 304.6,594.2 C308.2,594.2 311.9,594.4 315.5,594.7 C319.1,595.1 322.7,595.6 326.3,596.2 C329.9,596.9 333.4,597.7 336.9,598.6 C340.4,599.5 343.9,600.6 347.3,601.9 C350.7,603.1 354.1,604.5 357.4,606 C360.7,607.5 363.9,609.2 367.1,611 C370.2,612.8 373.3,614.8 376.3,616.9 C379.2,618.9 382.1,621.2 384.9,623.5 C387.7,625.8 390.4,628.3 393,630.8 C395.5,633.4 398,636.1 400.4,638.9 C402.7,641.6 404.9,644.5 407,647.5 C409.1,650.5 411,653.6 412.8,656.7 C414.6,659.9 416.3,663.1 417.8,666.4 C419.4,669.7 420.7,673.1 422,676.5 C423.2,679.9 424.3,683.4 425.2,686.9 C426.2,690.4 426.9,693.9 427.6,697.5 C428.2,701.1 428.7,704.7 429,708.3 C429.3,711.9 429.4,715.6 429.4,719.2Z" fill="none" stroke="#2e2a2a" stroke-width="1.25"/>
<path d="M438.2,719.2 C438.2,723.1 438,727 437.7,730.8 C437.4,734.7 436.8,738.6 436.2,742.4 C435.5,746.2 434.7,750 433.7,753.8 C432.7,757.5 431.5,761.2 430.2,764.9 C428.8,768.6 427.4,772.2 425.7,775.7 C424.1,779.2 422.3,782.7 420.4,786.1 C418.5,789.4 416.4,792.7 414.2,795.9 C412,799.1 409.6,802.3 407.1,805.2 C404.7,808.2 402,811.1 399.3,813.9 C396.5,816.6 393.6,819.3 390.7,821.8 C387.7,824.3 384.6,826.6 381.4,828.9 C378.2,831.1 374.9,833.2 371.5,835.1 C368.2,837.1 364.7,838.9 361.2,840.5 C357.7,842.2 354,843.7 350.4,845 C346.7,846.3 343,847.5 339.2,848.5 C335.5,849.4 331.7,850.3 327.8,850.9 C324,851.6 320.1,852.1 316.3,852.4 C312.4,852.7 308.5,852.9 304.6,852.9 C300.7,852.9 296.8,852.7 293,852.3 C289.1,852 285.2,851.5 281.4,850.8 C277.6,850.1 273.8,849.3 270,848.3 C266.3,847.3 262.6,846.1 258.9,844.8 C255.3,843.4 251.7,841.9 248.1,840.3 C244.6,838.7 241.2,836.8 237.8,834.9 C234.4,833 231.1,830.9 228,828.7 C224.8,826.4 221.7,824.1 218.7,821.6 C215.7,819.1 212.8,816.5 210,813.8 C207.3,811 204.6,808.2 202.1,805.2 C199.6,802.2 197.2,799.2 194.9,796 C192.7,792.8 190.6,789.5 188.7,786.1 C186.7,782.8 184.9,779.3 183.3,775.8 C181.7,772.2 180.2,768.6 178.9,764.9 C177.6,761.3 176.4,757.6 175.5,753.8 C174.5,750 173.7,746.2 173,742.4 C172.4,738.6 171.9,734.7 171.5,730.8 C171.2,727 171.1,723.1 171.1,719.2 C171.1,715.3 171.3,711.4 171.6,707.6 C171.9,703.7 172.4,699.8 173.1,696 C173.7,692.2 174.6,688.4 175.6,684.6 C176.5,680.9 177.7,677.1 179,673.5 C180.3,669.8 181.8,666.2 183.5,662.7 C185.1,659.2 186.9,655.7 188.8,652.3 C190.7,649 192.8,645.7 195,642.5 C197.2,639.3 199.6,636.2 202.1,633.2 C204.5,630.2 207.2,627.3 209.9,624.5 C212.7,621.8 215.5,619.1 218.5,616.6 C221.5,614.1 224.5,611.7 227.7,609.4 C230.9,607.2 234.2,605.1 237.6,603.2 C241,601.2 244.5,599.5 248,597.8 C251.5,596.2 255.1,594.7 258.8,593.4 C262.5,592.1 266.2,590.9 270,589.9 C273.7,588.9 277.5,588.1 281.4,587.4 C285.2,586.8 289.1,586.3 292.9,586 C296.8,585.6 300.7,585.5 304.6,585.5 C308.5,585.5 312.4,585.7 316.2,586 C320.1,586.4 324,586.9 327.8,587.6 C331.6,588.3 335.4,589.1 339.2,590.1 C342.9,591.2 346.7,592.3 350.3,593.6 C353.9,595 357.6,596.5 361.1,598.1 C364.6,599.7 368.1,601.5 371.4,603.5 C374.8,605.4 378.1,607.5 381.3,609.7 C384.5,611.9 387.6,614.3 390.5,616.8 C393.5,619.3 396.4,621.9 399.1,624.7 C401.9,627.4 404.5,630.3 407,633.2 C409.5,636.2 411.9,639.3 414.1,642.5 C416.4,645.7 418.4,649 420.4,652.4 C422.3,655.7 424.1,659.2 425.7,662.7 C427.4,666.2 428.9,669.8 430.2,673.5 C431.5,677.1 432.7,680.9 433.7,684.6 C434.7,688.4 435.5,692.2 436.2,696 C436.9,699.8 437.4,703.7 437.7,707.6 C438,711.4 438.2,715.3 438.2,719.2Z" fill="none" stroke="#2e2a2a" stroke-width="1.25"/>
<path d="M446.9,719.2 C446.9,723.3 446.8,727.5 446.4,731.6 C446,735.7 445.5,739.8 444.8,743.9 C444.1,748 443.2,752 442.1,756 C441,760 439.8,764 438.4,767.9 C437,771.8 435.4,775.6 433.7,779.4 C431.9,783.1 430,786.8 428,790.4 C425.9,794 423.7,797.5 421.3,800.9 C419,804.3 416.5,807.7 413.8,810.8 C411.1,814 408.3,817.1 405.4,820 C402.5,822.9 399.4,825.7 396.2,828.4 C393.1,831.1 389.8,833.6 386.4,836 C383,838.4 379.5,840.6 375.9,842.7 C372.3,844.7 368.6,846.7 364.8,848.4 C361.1,850.2 357.2,851.7 353.4,853.2 C349.5,854.6 345.5,855.8 341.5,856.9 C337.5,857.9 333.4,858.8 329.3,859.5 C325.3,860.2 321.1,860.7 317,861.1 C312.9,861.4 308.7,861.6 304.6,861.6 C300.5,861.6 296.3,861.4 292.2,861 C288.1,860.7 284,860.1 279.9,859.4 C275.8,858.7 271.8,857.8 267.8,856.7 C263.8,855.6 259.8,854.4 255.9,853 C252,851.6 248.2,850 244.4,848.2 C240.7,846.5 237,844.5 233.4,842.5 C229.8,840.4 226.3,838.2 222.9,835.8 C219.5,833.5 216.2,830.9 213.1,828.3 C209.9,825.7 206.8,822.9 203.9,819.9 C200.9,817 198.1,814 195.4,810.8 C192.8,807.6 190.2,804.4 187.8,801 C185.4,797.6 183.2,794.1 181.1,790.5 C179.1,786.9 177.2,783.2 175.4,779.4 C173.7,775.7 172.1,771.8 170.7,767.9 C169.3,764 168.1,760.1 167,756.1 C166,752.1 165.1,748 164.4,743.9 C163.7,739.8 163.2,735.7 162.8,731.6 C162.5,727.5 162.3,723.3 162.3,719.2 C162.3,715.1 162.5,710.9 162.9,706.8 C163.2,702.7 163.7,698.6 164.4,694.5 C165.2,690.4 166,686.4 167.1,682.4 C168.2,678.4 169.4,674.4 170.8,670.5 C172.2,666.6 173.8,662.8 175.5,659 C177.3,655.3 179.2,651.6 181.2,648 C183.3,644.4 185.5,640.9 187.9,637.5 C190.2,634.1 192.8,630.8 195.4,627.6 C198.1,624.4 200.9,621.3 203.8,618.4 C206.7,615.4 209.8,612.6 212.9,609.9 C216.1,607.3 219.4,604.7 222.8,602.3 C226.2,600 229.7,597.7 233.3,595.7 C236.9,593.6 240.6,591.7 244.3,590 C248.1,588.2 251.9,586.6 255.8,585.2 C259.7,583.8 263.7,582.6 267.7,581.5 C271.7,580.5 275.8,579.6 279.9,578.9 C283.9,578.2 288.1,577.6 292.2,577.3 C296.3,576.9 300.5,576.8 304.6,576.8 C308.7,576.8 312.9,577 317,577.3 C321.1,577.7 325.2,578.3 329.3,579 C333.4,579.7 337.4,580.6 341.4,581.7 C345.4,582.8 349.4,584 353.3,585.4 C357.2,586.8 361,588.4 364.8,590.2 C368.5,591.9 372.2,593.8 375.8,595.9 C379.4,598 382.9,600.2 386.3,602.6 C389.7,604.9 393,607.5 396.1,610.1 C399.3,612.8 402.4,615.6 405.3,618.5 C408.2,621.4 411.1,624.5 413.7,627.6 C416.4,630.8 418.9,634.1 421.3,637.5 C423.6,640.9 425.9,644.4 427.9,648 C430,651.6 431.9,655.3 433.7,659 C435.4,662.8 437,666.6 438.4,670.5 C439.8,674.4 441.1,678.4 442.1,682.4 C443.2,686.3 444.1,690.4 444.8,694.5 C445.5,698.6 446,702.7 446.4,706.8 C446.8,710.9 446.9,715.1 446.9,719.2Z" fill="none" stroke="#2e2a2a" stroke-width="1.25"/>
<path d="M455.7,719.2 C455.7,723.6 455.5,728 455.1,732.4 C454.7,736.7 454.2,741.1 453.4,745.4 C452.6,749.8 451.7,754.1 450.5,758.3 C449.4,762.5 448.1,766.8 446.6,770.9 C445.1,775 443.4,779.1 441.6,783.1 C439.7,787.1 437.7,791 435.5,794.8 C433.3,798.6 431,802.3 428.5,805.9 C426,809.5 423.3,813.1 420.5,816.4 C417.6,819.8 414.7,823 411.6,826.2 C408.4,829.3 405.2,832.2 401.8,835.1 C398.5,837.9 395,840.6 391.4,843.1 C387.8,845.6 384,848 380.2,850.2 C376.4,852.4 372.5,854.4 368.5,856.3 C364.5,858.1 360.5,859.8 356.3,861.3 C352.2,862.8 348,864.1 343.7,865.3 C339.5,866.4 335.2,867.3 330.9,868.1 C326.5,868.8 322.1,869.4 317.8,869.8 C313.4,870.2 309,870.3 304.6,870.3 C300.2,870.3 295.8,870.1 291.4,869.7 C287.1,869.3 282.7,868.8 278.4,868 C274,867.2 269.7,866.3 265.5,865.1 C261.3,864 257,862.7 252.9,861.2 C248.8,859.7 244.7,858 240.7,856.1 C236.8,854.3 232.9,852.2 229.1,850.1 C225.3,847.9 221.5,845.5 217.9,843 C214.3,840.5 210.8,837.8 207.4,835 C204.1,832.2 200.8,829.2 197.7,826.1 C194.6,823 191.6,819.8 188.8,816.4 C185.9,813 183.2,809.6 180.7,806 C178.2,802.4 175.8,798.6 173.6,794.8 C171.4,791 169.4,787.1 167.5,783.1 C165.7,779.1 164,775 162.5,770.9 C161,766.8 159.7,762.6 158.6,758.3 C157.5,754.1 156.5,749.8 155.8,745.4 C155,741.1 154.5,736.7 154.1,732.4 C153.7,728 153.6,723.6 153.6,719.2 C153.6,714.8 153.8,710.4 154.1,706 C154.5,701.7 155.1,697.3 155.8,693 C156.6,688.6 157.5,684.3 158.7,680.1 C159.8,675.9 161.1,671.6 162.6,667.5 C164.1,663.4 165.8,659.3 167.6,655.3 C169.5,651.3 171.5,647.4 173.7,643.6 C175.9,639.8 178.2,636.1 180.7,632.5 C183.3,628.9 185.9,625.4 188.7,622 C191.6,618.6 194.5,615.3 197.6,612.2 C200.7,609.1 204,606.1 207.3,603.3 C210.7,600.5 214.2,597.8 217.8,595.2 C221.4,592.7 225.1,590.3 228.9,588.2 C232.8,586 236.7,583.9 240.7,582.1 C244.7,580.2 248.7,578.6 252.9,577.1 C257,575.6 261.2,574.2 265.5,573.1 C269.7,572 274,571 278.3,570.3 C282.7,569.5 287,569 291.4,568.6 C295.8,568.2 300.2,568 304.6,568 C309,568.1 313.4,568.3 317.8,568.6 C322.1,569 326.5,569.6 330.8,570.4 C335.2,571.2 339.5,572.1 343.7,573.3 C347.9,574.4 352.2,575.7 356.3,577.2 C360.4,578.7 364.5,580.4 368.5,582.3 C372.4,584.1 376.4,586.1 380.2,588.3 C384,590.5 387.7,592.9 391.3,595.4 C394.9,597.9 398.4,600.6 401.7,603.4 C405.1,606.2 408.4,609.2 411.5,612.3 C414.6,615.4 417.6,618.7 420.4,622 C423.2,625.4 425.9,628.9 428.4,632.5 C430.9,636.1 433.3,639.8 435.5,643.6 C437.7,647.4 439.7,651.3 441.6,655.3 C443.4,659.3 445.1,663.4 446.6,667.5 C448.1,671.6 449.4,675.8 450.6,680.1 C451.7,684.3 452.6,688.6 453.4,693 C454.2,697.3 454.7,701.7 455.1,706 C455.5,710.4 455.7,714.8 455.7,719.2Z" fill="none" stroke="#2e2a2a" stroke-width="1.25"/>
<path d="M464.4,719.2 C464.4,723.8 464.2,728.5 463.8,733.1 C463.4,737.8 462.8,742.4 462,747 C461.2,751.5 460.2,756.1 459,760.6 C457.8,765.1 456.4,769.5 454.8,773.9 C453.2,778.2 451.4,782.5 449.5,786.8 C447.5,791 445.4,795.1 443.1,799.1 C440.8,803.2 438.3,807.1 435.6,810.9 C432.9,814.7 430.1,818.5 427.1,822 C424.1,825.6 421,829 417.7,832.3 C414.4,835.6 411,838.7 407.4,841.7 C403.9,844.7 400.2,847.6 396.3,850.2 C392.5,852.9 388.6,855.4 384.6,857.7 C380.6,860 376.4,862.2 372.2,864.2 C368,866.1 363.7,867.9 359.3,869.5 C354.9,871.1 350.5,872.5 346,873.7 C341.5,874.9 336.9,875.9 332.4,876.7 C327.8,877.5 323.2,878.1 318.5,878.5 C313.9,878.9 309.2,879.1 304.6,879.1 C300,879 295.3,878.8 290.7,878.4 C286,878 281.4,877.4 276.8,876.6 C272.3,875.8 267.7,874.8 263.2,873.6 C258.7,872.4 254.3,871 249.9,869.4 C245.6,867.8 241.3,866 237.1,864.1 C232.8,862.1 228.7,859.9 224.7,857.6 C220.7,855.3 216.7,852.8 212.9,850.1 C209.1,847.5 205.4,844.6 201.8,841.7 C198.3,838.7 194.8,835.5 191.5,832.3 C188.2,829 185.1,825.6 182.1,822 C179.1,818.4 176.2,814.7 173.6,810.9 C170.9,807.1 168.4,803.2 166.1,799.2 C163.8,795.2 161.6,791 159.7,786.8 C157.7,782.6 155.9,778.3 154.3,773.9 C152.8,769.5 151.4,765.1 150.2,760.6 C149,756.1 148,751.5 147.2,747 C146.4,742.4 145.8,737.8 145.4,733.1 C145,728.5 144.8,723.8 144.8,719.2 C144.8,714.6 145,709.9 145.4,705.3 C145.8,700.6 146.4,696 147.2,691.5 C148,686.9 149,682.3 150.2,677.8 C151.4,673.3 152.8,668.9 154.4,664.5 C156,660.2 157.8,655.9 159.7,651.6 C161.7,647.4 163.8,643.3 166.1,639.3 C168.5,635.2 171,631.3 173.6,627.5 C176.3,623.7 179.1,620 182.1,616.4 C185.1,612.8 188.2,609.4 191.5,606.1 C194.8,602.8 198.2,599.6 201.8,596.6 C205.3,593.6 209,590.8 212.8,588.1 C216.6,585.5 220.6,583 224.6,580.6 C228.6,578.3 232.8,576.2 237,574.2 C241.2,572.3 245.5,570.5 249.9,568.9 C254.3,567.3 258.7,565.9 263.2,564.7 C267.7,563.5 272.3,562.5 276.8,561.7 C281.4,560.9 286,560.3 290.7,559.9 C295.3,559.5 300,559.3 304.6,559.3 C309.2,559.3 313.9,559.5 318.5,560 C323.2,560.4 327.8,561 332.4,561.8 C336.9,562.6 341.5,563.6 346,564.8 C350.5,566 354.9,567.4 359.3,569 C363.6,570.6 367.9,572.4 372.2,574.3 C376.4,576.3 380.5,578.5 384.5,580.8 C388.5,583.1 392.5,585.6 396.3,588.3 C400.1,590.9 403.8,593.8 407.4,596.7 C410.9,599.7 414.4,602.9 417.6,606.2 C420.9,609.4 424.1,612.9 427.1,616.4 C430.1,620 432.9,623.7 435.6,627.5 C438.2,631.3 440.7,635.2 443,639.3 C445.4,643.3 447.5,647.4 449.5,651.6 C451.4,655.9 453.2,660.2 454.8,664.5 C456.4,668.9 457.8,673.3 459,677.8 C460.2,682.3 461.2,686.9 462,691.4 C462.8,696 463.4,700.6 463.8,705.3 C464.2,709.9 464.4,714.6 464.4,719.2Z" fill="none" stroke="#2e2a2a" stroke-width="1.25"/>
<path d="M473.2,719.2 C473.2,724.1 472.9,729 472.5,733.9 C472.1,738.8 471.4,743.6 470.6,748.5 C469.7,753.3 468.7,758.1 467.4,762.8 C466.1,767.6 464.7,772.2 463,776.9 C461.3,781.5 459.4,786 457.4,790.4 C455.3,794.9 453.1,799.3 450.6,803.5 C448.2,807.7 445.5,811.9 442.7,815.9 C439.9,819.9 436.9,823.9 433.8,827.6 C430.7,831.4 427.3,835 423.9,838.5 C420.4,841.9 416.8,845.2 413,848.4 C409.3,851.5 405.4,854.5 401.3,857.4 C397.3,860.2 393.2,862.8 388.9,865.3 C384.7,867.7 380.3,870 375.9,872.1 C371.4,874.1 366.9,876 362.3,877.7 C357.7,879.4 353,880.8 348.2,882.1 C343.5,883.4 338.7,884.4 333.9,885.3 C329.1,886.1 324.2,886.7 319.3,887.2 C314.4,887.6 309.5,887.8 304.6,887.8 C299.7,887.8 294.8,887.6 289.9,887.1 C285,886.7 280.2,886 275.3,885.2 C270.5,884.3 265.7,883.3 261,882 C256.2,880.7 251.6,879.3 246.9,877.6 C242.3,875.9 237.8,874 233.4,872 C228.9,869.9 224.6,867.6 220.3,865.2 C216.1,862.7 211.9,860.1 207.9,857.3 C203.9,854.5 200,851.5 196.2,848.3 C192.5,845.2 188.8,841.9 185.4,838.4 C181.9,835 178.6,831.3 175.4,827.6 C172.3,823.8 169.3,819.9 166.4,815.9 C163.6,811.9 161,807.8 158.5,803.5 C156.1,799.3 153.8,794.9 151.8,790.5 C149.7,786 147.8,781.5 146.2,776.9 C144.5,772.3 143,767.6 141.8,762.8 C140.5,758.1 139.4,753.3 138.6,748.5 C137.8,743.6 137.1,738.8 136.7,733.9 C136.3,729 136.1,724.1 136.1,719.2 C136.1,714.3 136.3,709.4 136.7,704.5 C137.1,699.6 137.8,694.8 138.6,689.9 C139.5,685.1 140.5,680.3 141.8,675.6 C143.1,670.8 144.5,666.1 146.2,661.5 C147.9,656.9 149.7,652.4 151.8,648 C153.9,643.5 156.1,639.1 158.6,634.9 C161,630.7 163.7,626.5 166.5,622.5 C169.3,618.5 172.3,614.6 175.4,610.8 C178.6,607 181.9,603.4 185.3,599.9 C188.8,596.5 192.4,593.1 196.2,590 C199.9,586.8 203.8,583.8 207.8,581 C211.8,578.2 216,575.6 220.3,573.1 C224.5,570.7 228.9,568.4 233.3,566.3 C237.8,564.3 242.3,562.4 246.9,560.7 C251.5,559 256.2,557.6 261,556.3 C265.7,555 270.5,554 275.3,553.1 C280.1,552.3 285,551.7 289.9,551.2 C294.8,550.8 299.7,550.6 304.6,550.6 C309.5,550.6 314.4,550.8 319.3,551.3 C324.2,551.7 329,552.3 333.9,553.2 C338.7,554.1 343.5,555.1 348.2,556.4 C353,557.7 357.6,559.1 362.3,560.8 C366.9,562.5 371.4,564.4 375.8,566.4 C380.3,568.5 384.6,570.8 388.9,573.2 C393.1,575.7 397.3,578.3 401.3,581.1 C405.3,583.9 409.2,586.9 413,590.1 C416.7,593.2 420.3,596.5 423.8,600 C427.3,603.4 430.6,607.1 433.8,610.8 C436.9,614.6 439.9,618.5 442.7,622.5 C445.5,626.5 448.2,630.7 450.6,634.9 C453,639.1 455.3,643.5 457.4,648 C459.5,652.4 461.3,656.9 463,661.5 C464.7,666.1 466.2,670.8 467.4,675.6 C468.7,680.3 469.8,685.1 470.6,689.9 C471.4,694.8 472.1,699.6 472.5,704.5 C472.9,709.4 473.2,714.3 473.2,719.2Z" fill="none" stroke="#2e2a2a" stroke-width="1.25"/>
<path d="M481.9,719.2 C481.9,724.4 481.7,729.5 481.2,734.7 C480.8,739.8 480.1,744.9 479.2,750 C478.3,755.1 477.2,760.1 475.8,765.1 C474.5,770.1 473,775 471.2,779.8 C469.4,784.7 467.5,789.5 465.3,794.1 C463.1,798.8 460.7,803.4 458.2,807.9 C455.6,812.3 452.8,816.7 449.9,820.9 C446.9,825.1 443.8,829.3 440.5,833.2 C437.2,837.2 433.7,841 430,844.6 C426.4,848.3 422.6,851.8 418.6,855.1 C414.7,858.4 410.6,861.5 406.3,864.5 C402.1,867.4 397.7,870.2 393.3,872.8 C388.8,875.4 384.2,877.8 379.6,879.9 C374.9,882.1 370.1,884.1 365.3,885.9 C360.4,887.6 355.5,889.2 350.5,890.5 C345.5,891.8 340.5,892.9 335.4,893.8 C330.3,894.7 325.2,895.4 320.1,895.8 C314.9,896.3 309.8,896.5 304.6,896.5 C299.4,896.5 294.3,896.3 289.1,895.8 C284,895.4 278.9,894.7 273.8,893.8 C268.7,892.9 263.7,891.8 258.7,890.4 C253.7,889.1 248.8,887.6 244,885.8 C239.1,884 234.3,882.1 229.7,879.9 C225,877.7 220.4,875.3 216,872.7 C211.5,870.2 207.1,867.4 202.9,864.4 C198.7,861.5 194.6,858.3 190.6,855 C186.7,851.7 182.9,848.2 179.2,844.6 C175.6,841 172.1,837.1 168.7,833.2 C165.4,829.3 162.3,825.2 159.3,820.9 C156.4,816.7 153.6,812.3 151,807.9 C148.4,803.4 146,798.8 143.9,794.2 C141.7,789.5 139.7,784.7 138,779.9 C136.2,775 134.7,770.1 133.3,765.1 C132,760.1 130.9,755.1 130,750 C129.1,744.9 128.4,739.8 128,734.7 C127.6,729.5 127.3,724.4 127.3,719.2 C127.3,714 127.6,708.9 128,703.8 C128.5,698.6 129.1,693.5 130,688.4 C130.9,683.3 132,678.3 133.4,673.3 C134.7,668.3 136.2,663.4 138,658.6 C139.8,653.7 141.7,648.9 143.9,644.3 C146.1,639.6 148.5,635 151,630.5 C153.6,626.1 156.4,621.7 159.3,617.5 C162.3,613.3 165.4,609.1 168.7,605.2 C172,601.2 175.5,597.4 179.2,593.8 C182.8,590.1 186.6,586.6 190.6,583.3 C194.5,580 198.6,576.8 202.8,573.9 C207.1,570.9 211.4,568.1 215.9,565.6 C220.4,563 225,560.6 229.6,558.4 C234.3,556.3 239.1,554.3 243.9,552.5 C248.8,550.8 253.7,549.2 258.7,547.9 C263.7,546.6 268.7,545.4 273.8,544.6 C278.9,543.7 284,543 289.1,542.5 C294.3,542.1 299.4,541.9 304.6,541.9 C309.8,541.9 314.9,542.1 320.1,542.6 C325.2,543 330.3,543.7 335.4,544.6 C340.5,545.5 345.5,546.6 350.5,548 C355.5,549.3 360.4,550.8 365.2,552.6 C370.1,554.4 374.9,556.3 379.5,558.5 C384.2,560.7 388.8,563.1 393.2,565.7 C397.7,568.2 402.1,571 406.3,574 C410.5,576.9 414.6,580.1 418.6,583.4 C422.5,586.7 426.3,590.2 430,593.8 C433.6,597.5 437.1,601.3 440.4,605.2 C443.7,609.2 446.9,613.3 449.8,617.5 C452.8,621.7 455.6,626.1 458.2,630.5 C460.7,635 463.1,639.6 465.3,644.3 C467.5,648.9 469.4,653.7 471.2,658.6 C473,663.4 474.5,668.3 475.9,673.3 C477.2,678.3 478.3,683.3 479.2,688.4 C480.1,693.5 480.8,698.6 481.2,703.7 C481.7,708.9 481.9,714 481.9,719.2Z" fill="none" stroke="#2e2a2a" stroke-width="1.25"/>
<path d="M490.6,719.2 C490.6,724.6 490.4,730 489.9,735.4 C489.4,740.8 488.7,746.2 487.8,751.5 C486.8,756.8 485.7,762.1 484.3,767.3 C482.9,772.6 481.2,777.7 479.4,782.8 C477.6,787.9 475.5,792.9 473.2,797.8 C470.9,802.7 468.4,807.5 465.7,812.2 C463,816.9 460.1,821.5 457,825.9 C453.9,830.3 450.6,834.7 447.1,838.8 C443.7,842.9 440,847 436.2,850.8 C432.4,854.6 428.3,858.3 424.2,861.7 C420.1,865.2 415.8,868.5 411.3,871.6 C406.9,874.7 402.3,877.6 397.6,880.3 C393,883 388.1,885.6 383.2,887.8 C378.3,890.1 373.3,892.2 368.2,894.1 C363.2,895.9 358,897.5 352.8,898.9 C347.5,900.3 342.2,901.5 336.9,902.4 C331.6,903.4 326.2,904.1 320.8,904.5 C315.4,905 310,905.2 304.6,905.2 C299.2,905.2 293.8,905 288.4,904.5 C283,904 277.6,903.3 272.3,902.4 C267,901.4 261.7,900.3 256.5,898.9 C251.2,897.5 246.1,895.8 241,894 C235.9,892.1 230.9,890.1 226,887.8 C221.1,885.5 216.3,883 211.6,880.3 C206.9,877.6 202.3,874.7 197.9,871.6 C193.5,868.5 189.2,865.2 185,861.7 C180.9,858.2 176.9,854.6 173,850.8 C169.2,846.9 165.5,842.9 162.1,838.8 C158.6,834.7 155.3,830.4 152.2,825.9 C149.1,821.5 146.2,816.9 143.5,812.2 C140.8,807.6 138.2,802.7 136,797.8 C133.7,792.9 131.6,787.9 129.8,782.8 C127.9,777.8 126.3,772.6 124.9,767.3 C123.5,762.1 122.3,756.8 121.4,751.5 C120.5,746.2 119.8,740.8 119.3,735.4 C118.8,730 118.6,724.6 118.6,719.2 C118.6,713.8 118.8,708.4 119.3,703 C119.8,697.6 120.5,692.2 121.4,686.9 C122.4,681.6 123.5,676.3 124.9,671.1 C126.3,665.8 128,660.7 129.8,655.6 C131.6,650.5 133.7,645.5 136,640.6 C138.3,635.7 140.8,630.9 143.5,626.2 C146.2,621.5 149.1,616.9 152.2,612.5 C155.3,608.1 158.6,603.7 162.1,599.6 C165.5,595.5 169.2,591.4 173,587.6 C176.8,583.8 180.8,580.1 185,576.6 C189.1,573.2 193.4,569.9 197.9,566.8 C202.3,563.6 206.9,560.7 211.6,558 C216.2,555.3 221.1,552.8 226,550.5 C230.9,548.3 235.9,546.2 241,544.3 C246,542.5 251.2,540.9 256.4,539.5 C261.7,538.1 267,536.9 272.3,536 C277.6,535 283,534.3 288.4,533.9 C293.8,533.4 299.2,533.2 304.6,533.2 C310,533.2 315.4,533.4 320.8,533.9 C326.2,534.4 331.6,535.1 336.9,536 C342.2,536.9 347.5,538.1 352.7,539.5 C358,540.9 363.1,542.6 368.2,544.4 C373.3,546.2 378.3,548.3 383.2,550.6 C388.1,552.9 392.9,555.4 397.6,558.1 C402.3,560.8 406.9,563.7 411.3,566.8 C415.7,569.9 420,573.2 424.2,576.7 C428.3,580.2 432.3,583.8 436.1,587.7 C440,591.5 443.6,595.5 447.1,599.6 C450.6,603.8 453.9,608.1 457,612.5 C460.1,616.9 463,621.5 465.7,626.2 C468.4,630.9 470.9,635.7 473.2,640.6 C475.5,645.5 477.6,650.5 479.4,655.6 C481.3,660.7 482.9,665.8 484.3,671.1 C485.7,676.3 486.9,681.6 487.8,686.9 C488.7,692.2 489.4,697.6 489.9,703 C490.4,708.4 490.6,713.8 490.6,719.2Z" fill="none" stroke="#2e2a2a" stroke-width="1.25"/>
<path d="M499.3,719.2 C499.3,724.9 499.1,730.5 498.6,736.2 C498.1,741.8 497.4,747.4 496.4,753 C495.4,758.6 494.2,764.1 492.7,769.6 C491.2,775.1 489.5,780.5 487.6,785.8 C485.7,791.1 483.5,796.4 481.1,801.5 C478.7,806.6 476.1,811.7 473.3,816.6 C470.4,821.5 467.4,826.3 464.1,830.9 C460.9,835.6 457.5,840.1 453.8,844.4 C450.2,848.7 446.3,852.9 442.3,856.9 C438.3,860.9 434.1,864.8 429.8,868.4 C425.5,872.1 421,875.5 416.3,878.8 C411.7,882 406.9,885.1 402,887.9 C397.1,890.7 392,893.3 386.9,895.7 C381.8,898.1 376.5,900.3 371.2,902.2 C365.9,904.2 360.5,905.9 355,907.3 C349.5,908.8 344,910 338.4,911 C332.8,912 327.2,912.7 321.6,913.2 C315.9,913.7 310.3,914 304.6,914 C298.9,913.9 293.3,913.7 287.6,913.2 C282,912.7 276.4,912 270.8,911 C265.2,910 259.7,908.8 254.2,907.3 C248.7,905.8 243.3,904.1 238,902.2 C232.7,900.3 227.4,898.1 222.3,895.7 C217.2,893.3 212.1,890.7 207.2,887.9 C202.3,885 197.5,882 192.9,878.7 C188.3,875.5 183.8,872 179.4,868.4 C175.1,864.8 170.9,860.9 166.9,856.9 C162.9,852.9 159,848.7 155.4,844.4 C151.8,840.1 148.3,835.6 145,830.9 C141.8,826.3 138.7,821.5 135.9,816.6 C133.1,811.7 130.5,806.6 128.1,801.5 C125.7,796.4 123.5,791.1 121.6,785.8 C119.6,780.5 117.9,775.1 116.5,769.6 C115,764.1 113.8,758.6 112.8,753 C111.8,747.4 111.1,741.8 110.6,736.2 C110.1,730.5 109.9,724.9 109.9,719.2 C109.9,713.5 110.1,707.9 110.6,702.2 C111.1,696.6 111.8,691 112.8,685.4 C113.8,679.8 115,674.3 116.5,668.8 C118,663.3 119.7,657.9 121.6,652.6 C123.5,647.3 125.7,642 128.1,636.9 C130.5,631.8 133.1,626.7 135.9,621.8 C138.8,616.9 141.8,612.1 145.1,607.5 C148.3,602.8 151.8,598.3 155.4,594 C159,589.7 162.9,585.5 166.9,581.5 C170.9,577.5 175.1,573.6 179.4,570 C183.7,566.3 188.2,562.9 192.9,559.6 C197.5,556.4 202.3,553.3 207.2,550.5 C212.1,547.7 217.1,545 222.3,542.7 C227.4,540.3 232.7,538.1 238,536.2 C243.3,534.2 248.7,532.5 254.2,531.1 C259.7,529.6 265.2,528.4 270.8,527.4 C276.4,526.4 282,525.7 287.6,525.2 C293.3,524.7 298.9,524.4 304.6,524.4 C310.3,524.4 315.9,524.7 321.6,525.2 C327.2,525.7 332.8,526.4 338.4,527.4 C344,528.4 349.5,529.6 355,531.1 C360.5,532.6 365.9,534.3 371.2,536.2 C376.5,538.1 381.8,540.3 386.9,542.7 C392,545.1 397.1,547.7 402,550.5 C406.9,553.4 411.7,556.4 416.3,559.7 C420.9,562.9 425.5,566.4 429.8,570 C434.1,573.6 438.3,577.5 442.3,581.5 C446.3,585.5 450.2,589.7 453.8,594 C457.4,598.3 460.9,602.9 464.1,607.5 C467.4,612.1 470.4,616.9 473.3,621.8 C476.1,626.7 478.7,631.8 481.1,636.9 C483.5,642 485.7,647.3 487.6,652.6 C489.5,657.9 491.2,663.3 492.7,668.8 C494.2,674.3 495.4,679.8 496.4,685.4 C497.4,691 498.1,696.6 498.6,702.2 C499.1,707.9 499.3,713.5 499.3,719.2Z" fill="none" stroke="#2e2a2a" stroke-width="1.25"/>
<path d="M508.1,719.2 C508.1,725.1 507.8,731 507.3,736.9 C506.8,742.8 506,748.7 505,754.5 C503.9,760.4 502.7,766.2 501.1,771.9 C499.6,777.6 497.8,783.2 495.8,788.8 C493.8,794.3 491.5,799.8 489,805.2 C486.5,810.6 483.8,815.8 480.8,820.9 C477.9,826.1 474.7,831.1 471.3,835.9 C467.9,840.8 464.3,845.5 460.5,850 C456.7,854.5 452.7,858.9 448.5,863.1 C444.3,867.3 439.9,871.3 435.4,875.1 C430.9,878.9 426.2,882.5 421.3,885.9 C416.5,889.3 411.5,892.5 406.4,895.4 C401.2,898.4 396,901.1 390.6,903.6 C385.2,906.1 379.8,908.4 374.2,910.4 C368.6,912.4 363,914.2 357.3,915.8 C351.6,917.3 345.8,918.6 339.9,919.6 C334.1,920.6 328.2,921.4 322.3,921.9 C316.4,922.4 310.5,922.7 304.6,922.7 C298.7,922.7 292.8,922.4 286.9,921.9 C281,921.4 275.1,920.6 269.3,919.6 C263.4,918.5 257.6,917.3 251.9,915.7 C246.2,914.2 240.6,912.4 235,910.4 C229.5,908.4 224,906.1 218.6,903.6 C213.3,901.1 208,898.4 202.9,895.4 C197.7,892.5 192.7,889.3 187.9,885.9 C183.1,882.5 178.3,878.9 173.8,875.1 C169.3,871.3 164.9,867.3 160.7,863.1 C156.5,858.9 152.5,854.5 148.7,850 C144.9,845.5 141.3,840.8 137.9,835.9 C134.5,831.1 131.3,826.1 128.4,821 C125.4,815.8 122.7,810.6 120.2,805.2 C117.7,799.8 115.4,794.4 113.4,788.8 C111.4,783.2 109.6,777.6 108.1,771.9 C106.5,766.2 105.2,760.4 104.2,754.5 C103.2,748.7 102.4,742.8 101.9,736.9 C101.4,731 101.2,725.1 101.2,719.2 C101.2,713.3 101.4,707.4 101.9,701.5 C102.4,695.6 103.2,689.7 104.2,683.9 C105.3,678 106.5,672.2 108.1,666.5 C109.6,660.8 111.4,655.2 113.4,649.6 C115.4,644.1 117.7,638.6 120.2,633.2 C122.7,627.9 125.4,622.6 128.4,617.5 C131.3,612.3 134.5,607.3 137.9,602.5 C141.3,597.6 144.9,592.9 148.7,588.4 C152.5,583.9 156.5,579.5 160.7,575.3 C164.9,571.1 169.3,567.1 173.8,563.3 C178.3,559.5 183,555.9 187.9,552.5 C192.7,549.1 197.7,545.9 202.8,543 C208,540 213.2,537.3 218.6,534.8 C224,532.3 229.4,530 235,528 C240.6,526 246.2,524.2 251.9,522.6 C257.6,521.1 263.4,519.8 269.3,518.8 C275.1,517.8 281,517 286.9,516.5 C292.8,516 298.7,515.7 304.6,515.7 C310.5,515.7 316.4,516 322.3,516.5 C328.2,517 334.1,517.8 339.9,518.8 C345.8,519.9 351.6,521.1 357.3,522.7 C363,524.2 368.6,526 374.2,528 C379.7,530 385.2,532.3 390.6,534.8 C395.9,537.3 401.2,540 406.3,543 C411.5,545.9 416.5,549.1 421.3,552.5 C426.1,555.9 430.9,559.5 435.4,563.3 C439.9,567.1 444.3,571.1 448.5,575.3 C452.7,579.5 456.7,583.9 460.5,588.4 C464.3,592.9 467.9,597.6 471.3,602.5 C474.7,607.3 477.9,612.3 480.8,617.5 C483.8,622.6 486.5,627.9 489,633.2 C491.5,638.6 493.8,644.1 495.8,649.6 C497.8,655.2 499.6,660.8 501.1,666.5 C502.7,672.2 503.9,678 505,683.9 C506,689.7 506.8,695.6 507.3,701.5 C507.8,707.4 508.1,713.3 508.1,719.2Z" fill="none" stroke="#2e2a2a" stroke-width="1.25"/>
<path d="M516.8,719.2 C516.8,725.4 516.5,731.6 516,737.7 C515.4,743.8 514.6,750 513.6,756 C512.5,762.1 511.2,768.2 509.6,774.1 C508,780.1 506.1,786 504,791.8 C501.9,797.6 499.5,803.3 496.9,808.9 C494.3,814.5 491.5,820 488.4,825.3 C485.3,830.6 482,835.9 478.4,840.9 C474.9,846 471.1,850.9 467.2,855.6 C463.2,860.3 459,864.9 454.7,869.3 C450.3,873.6 445.7,877.8 441,881.8 C436.3,885.7 431.4,889.5 426.3,893 C421.3,896.6 416,899.9 410.7,903 C405.4,906.1 399.9,908.9 394.3,911.5 C388.7,914.1 383,916.5 377.2,918.6 C371.4,920.7 365.5,922.6 359.5,924.2 C353.6,925.8 347.5,927.1 341.4,928.2 C335.4,929.2 329.2,930.1 323.1,930.6 C317,931.1 310.8,931.4 304.6,931.4 C298.4,931.4 292.2,931.1 286.1,930.6 C280,930 273.8,929.2 267.8,928.2 C261.7,927.1 255.6,925.8 249.7,924.2 C243.7,922.6 237.8,920.7 232,918.6 C226.2,916.5 220.5,914.1 214.9,911.5 C209.3,908.9 203.8,906 198.5,903 C193.2,899.9 187.9,896.6 182.9,893 C177.8,889.5 172.9,885.7 168.2,881.8 C163.5,877.8 158.9,873.6 154.5,869.3 C150.2,864.9 146,860.3 142,855.6 C138.1,850.9 134.3,846 130.8,840.9 C127.2,835.9 123.9,830.6 120.8,825.3 C117.7,820 114.9,814.5 112.3,808.9 C109.7,803.3 107.3,797.6 105.2,791.8 C103.1,786 101.2,780.1 99.6,774.1 C98,768.2 96.7,762.1 95.6,756 C94.6,750 93.8,743.8 93.2,737.7 C92.7,731.6 92.4,725.4 92.4,719.2 C92.4,713 92.7,706.8 93.2,700.7 C93.8,694.6 94.6,688.4 95.6,682.4 C96.7,676.3 98,670.2 99.6,664.3 C101.2,658.3 103.1,652.4 105.2,646.6 C107.3,640.8 109.7,635.1 112.3,629.5 C114.9,623.9 117.7,618.4 120.8,613.1 C123.9,607.8 127.2,602.5 130.8,597.5 C134.3,592.4 138.1,587.5 142,582.8 C146,578.1 150.2,573.5 154.5,569.1 C158.9,564.8 163.5,560.6 168.2,556.6 C172.9,552.7 177.8,548.9 182.9,545.4 C187.9,541.8 193.1,538.5 198.5,535.4 C203.8,532.3 209.3,529.5 214.9,526.9 C220.5,524.3 226.2,521.9 232,519.8 C237.8,517.7 243.7,515.8 249.7,514.2 C255.6,512.6 261.7,511.3 267.8,510.2 C273.8,509.1 280,508.3 286.1,507.8 C292.2,507.3 298.4,507 304.6,507 C310.8,507 317,507.3 323.1,507.8 C329.2,508.4 335.4,509.2 341.4,510.2 C347.5,511.3 353.6,512.6 359.5,514.2 C365.5,515.8 371.4,517.7 377.2,519.8 C383,521.9 388.7,524.3 394.3,526.9 C399.9,529.5 405.4,532.4 410.7,535.4 C416,538.5 421.3,541.8 426.3,545.4 C431.4,548.9 436.3,552.7 441,556.6 C445.7,560.6 450.3,564.8 454.6,569.2 C459,573.5 463.2,578.1 467.2,582.8 C471.1,587.5 474.9,592.4 478.4,597.5 C482,602.5 485.3,607.8 488.4,613.1 C491.4,618.4 494.3,623.9 496.9,629.5 C499.5,635.1 501.9,640.8 504,646.6 C506.1,652.4 508,658.3 509.6,664.3 C511.2,670.2 512.5,676.3 513.6,682.4 C514.6,688.4 515.4,694.6 516,700.7 C516.5,706.8 516.8,713 516.8,719.2Z" fill="none" stroke="#2e2a2a" stroke-width="1.25"/>
<path d="M525.5,719.2 C525.5,725.6 525.2,732.1 524.7,738.5 C524.1,744.8 523.3,751.2 522.2,757.6 C521,763.9 519.6,770.2 518,776.4 C516.3,782.6 514.4,788.7 512.2,794.8 C510,800.8 507.5,806.7 504.8,812.6 C502.1,818.4 499.1,824.1 495.9,829.7 C492.7,835.2 489.3,840.7 485.6,845.9 C481.9,851.2 478,856.3 473.8,861.2 C469.7,866.1 465.4,870.9 460.8,875.4 C456.3,880 451.5,884.3 446.6,888.4 C441.7,892.6 436.6,896.5 431.3,900.2 C426.1,903.9 420.6,907.3 415.1,910.5 C409.5,913.7 403.8,916.7 398,919.4 C392.2,922.1 386.2,924.6 380.2,926.8 C374.1,929 368,930.9 361.8,932.6 C355.6,934.3 349.3,935.7 343,936.8 C336.6,937.9 330.2,938.7 323.9,939.3 C317.5,939.8 311,940.1 304.6,940.1 C298.2,940.1 291.7,939.8 285.3,939.3 C279,938.7 272.6,937.9 266.2,936.8 C259.9,935.6 253.6,934.2 247.4,932.6 C241.2,930.9 235.1,929 229,926.8 C223,924.6 217.1,922.1 211.2,919.4 C205.4,916.7 199.7,913.7 194.1,910.5 C188.6,907.3 183.1,903.8 177.9,900.2 C172.6,896.5 167.5,892.6 162.6,888.4 C157.7,884.3 152.9,880 148.4,875.4 C143.8,870.9 139.5,866.1 135.4,861.2 C131.2,856.3 127.3,851.2 123.6,845.9 C119.9,840.7 116.5,835.2 113.3,829.7 C110.1,824.1 107.1,818.4 104.4,812.6 C101.7,806.8 99.2,800.8 97,794.8 C94.8,788.7 92.9,782.6 91.2,776.4 C89.6,770.2 88.2,763.9 87,757.6 C85.9,751.2 85.1,744.8 84.5,738.5 C84,732.1 83.7,725.6 83.7,719.2 C83.7,712.8 84,706.3 84.5,699.9 C85.1,693.6 85.9,687.2 87,680.8 C88.2,674.5 89.6,668.2 91.2,662 C92.9,655.8 94.8,649.7 97,643.6 C99.2,637.6 101.7,631.7 104.4,625.8 C107.1,620 110.1,614.3 113.3,608.7 C116.5,603.2 119.9,597.7 123.6,592.5 C127.3,587.2 131.2,582.1 135.4,577.2 C139.5,572.3 143.8,567.5 148.4,563 C152.9,558.4 157.7,554.1 162.6,550 C167.5,545.8 172.6,541.9 177.9,538.2 C183.1,534.5 188.6,531.1 194.1,527.9 C199.7,524.7 205.4,521.7 211.2,519 C217,516.3 223,513.8 229,511.6 C235.1,509.4 241.2,507.5 247.4,505.8 C253.6,504.1 259.9,502.7 266.2,501.6 C272.6,500.5 279,499.7 285.3,499.1 C291.7,498.6 298.2,498.3 304.6,498.3 C311,498.3 317.5,498.6 323.9,499.1 C330.2,499.7 336.6,500.5 343,501.6 C349.3,502.8 355.6,504.2 361.8,505.8 C368,507.5 374.1,509.4 380.2,511.6 C386.2,513.8 392.1,516.3 398,519 C403.8,521.7 409.5,524.7 415.1,527.9 C420.6,531.1 426.1,534.6 431.3,538.2 C436.6,541.9 441.7,545.8 446.6,550 C451.5,554.1 456.3,558.4 460.8,563 C465.4,567.5 469.7,572.3 473.8,577.2 C478,582.1 481.9,587.2 485.6,592.5 C489.2,597.7 492.7,603.2 495.9,608.7 C499.1,614.3 502.1,620 504.8,625.8 C507.5,631.7 510,637.6 512.2,643.6 C514.4,649.7 516.3,655.8 518,662 C519.6,668.2 521,674.5 522.2,680.8 C523.3,687.2 524.1,693.6 524.7,699.9 C525.2,706.3 525.5,712.8 525.5,719.2Z" fill="none" stroke="#2e2a2a" stroke-width="1.25"/>
<path d="M534.2,719.2 C534.2,725.9 533.9,732.6 533.4,739.2 C532.8,745.9 531.9,752.5 530.7,759.1 C529.6,765.6 528.1,772.2 526.4,778.6 C524.7,785.1 522.7,791.5 520.4,797.7 C518.1,804 515.5,810.2 512.7,816.2 C509.9,822.3 506.8,828.2 503.5,834 C500.1,839.8 496.5,845.5 492.7,850.9 C488.9,856.4 484.8,861.7 480.5,866.8 C476.2,871.9 471.7,876.9 467,881.6 C462.3,886.3 457.3,890.8 452.2,895.1 C447.1,899.4 441.8,903.5 436.3,907.3 C430.9,911.1 425.2,914.7 419.4,918.1 C413.6,921.4 407.7,924.5 401.7,927.3 C395.6,930.2 389.4,932.7 383.1,935 C376.9,937.3 370.5,939.3 364,941 C357.6,942.7 351,944.2 344.5,945.4 C337.9,946.5 331.3,947.4 324.6,948 C318,948.5 311.3,948.8 304.6,948.8 C297.9,948.8 291.2,948.5 284.6,948 C277.9,947.4 271.3,946.5 264.7,945.3 C258.2,944.2 251.6,942.7 245.2,941 C238.7,939.3 232.3,937.3 226.1,935 C219.8,932.7 213.6,930.1 207.6,927.3 C201.5,924.5 195.6,921.4 189.8,918.1 C184,914.7 178.4,911.1 172.9,907.3 C167.4,903.5 162.1,899.4 157,895.1 C151.9,890.8 146.9,886.3 142.2,881.6 C137.5,876.9 133,871.9 128.7,866.8 C124.4,861.7 120.3,856.4 116.5,850.9 C112.7,845.5 109.1,839.8 105.7,834 C102.4,828.2 99.3,822.3 96.5,816.3 C93.7,810.2 91.1,804 88.8,797.7 C86.5,791.5 84.5,785.1 82.8,778.6 C81.1,772.2 79.6,765.6 78.5,759.1 C77.3,752.5 76.4,745.9 75.8,739.2 C75.3,732.6 75,725.9 75,719.2 C75,712.5 75.3,705.8 75.8,699.2 C76.4,692.5 77.3,685.9 78.5,679.3 C79.6,672.8 81.1,666.2 82.8,659.8 C84.5,653.3 86.5,646.9 88.8,640.7 C91.1,634.4 93.7,628.2 96.5,622.2 C99.3,616.1 102.4,610.2 105.7,604.4 C109.1,598.6 112.7,592.9 116.5,587.5 C120.3,582 124.4,576.7 128.7,571.6 C133,566.5 137.5,561.5 142.2,556.8 C146.9,552.1 151.9,547.6 157,543.3 C162.1,539 167.4,534.9 172.9,531.1 C178.3,527.2 184,523.6 189.8,520.3 C195.6,517 201.5,513.9 207.5,511.1 C213.6,508.2 219.8,505.7 226.1,503.4 C232.3,501.1 238.7,499.1 245.2,497.4 C251.6,495.7 258.2,494.2 264.7,493 C271.3,491.9 277.9,491 284.6,490.4 C291.2,489.9 297.9,489.6 304.6,489.6 C311.3,489.6 318,489.9 324.6,490.4 C331.3,491 337.9,491.9 344.5,493.1 C351,494.2 357.6,495.7 364,497.4 C370.5,499.1 376.9,501.1 383.1,503.4 C389.4,505.7 395.6,508.3 401.6,511.1 C407.7,513.9 413.6,517 419.4,520.3 C425.2,523.7 430.8,527.3 436.3,531.1 C441.8,534.9 447.1,539 452.2,543.3 C457.3,547.6 462.3,552.1 467,556.8 C471.7,561.5 476.2,566.5 480.5,571.6 C484.8,576.7 488.9,582 492.7,587.5 C496.5,592.9 500.1,598.6 503.5,604.4 C506.8,610.2 509.9,616.1 512.7,622.2 C515.5,628.2 518.1,634.4 520.4,640.7 C522.7,646.9 524.7,653.3 526.4,659.8 C528.1,666.2 529.6,672.8 530.7,679.3 C531.9,685.9 532.8,692.5 533.4,699.2 C533.9,705.8 534.2,712.5 534.2,719.2Z" fill="none" stroke="#2e2a2a" stroke-width="1.25"/>
<path d="M543,719.2 C543,726.1 542.7,733.1 542,740 C541.4,746.9 540.5,753.8 539.3,760.6 C538.1,767.4 536.6,774.2 534.8,780.9 C533,787.6 530.9,794.2 528.6,800.7 C526.2,807.2 523.6,813.7 520.6,819.9 C517.7,826.2 514.5,832.4 511,838.4 C507.6,844.4 503.8,850.2 499.9,855.9 C495.9,861.6 491.7,867.1 487.2,872.4 C482.7,877.7 478,882.9 473.2,887.8 C468.3,892.6 463.1,897.3 457.8,901.8 C452.5,906.3 447,910.5 441.3,914.5 C435.6,918.4 429.8,922.2 423.8,925.6 C417.8,929.1 411.6,932.3 405.3,935.2 C399.1,938.2 392.6,940.8 386.1,943.2 C379.6,945.6 373,947.7 366.3,949.4 C359.6,951.2 352.8,952.7 346,953.9 C339.2,955.1 332.3,956.1 325.4,956.7 C318.5,957.3 311.5,957.6 304.6,957.6 C297.7,957.6 290.7,957.3 283.8,956.6 C276.9,956 270,955.1 263.2,953.9 C256.4,952.7 249.6,951.2 242.9,949.4 C236.2,947.6 229.6,945.5 223.1,943.2 C216.6,940.8 210.1,938.1 203.9,935.2 C197.6,932.3 191.4,929.1 185.4,925.6 C179.4,922.2 173.6,918.4 167.9,914.4 C162.2,910.5 156.7,906.2 151.4,901.8 C146.1,897.3 141,892.6 136.1,887.7 C131.2,882.9 126.5,877.7 122,872.4 C117.5,867.1 113.3,861.6 109.3,855.9 C105.4,850.2 101.6,844.4 98.2,838.4 C94.7,832.4 91.5,826.2 88.6,819.9 C85.6,813.7 83,807.2 80.6,800.7 C78.2,794.2 76.2,787.6 74.4,780.9 C72.6,774.2 71.1,767.4 69.9,760.6 C68.7,753.8 67.8,746.9 67.2,740 C66.6,733.1 66.3,726.1 66.3,719.2 C66.3,712.3 66.6,705.3 67.2,698.4 C67.8,691.5 68.7,684.6 69.9,677.8 C71.1,671 72.6,664.2 74.4,657.5 C76.2,650.8 78.3,644.2 80.6,637.7 C83,631.2 85.6,624.7 88.6,618.5 C91.5,612.2 94.7,606 98.2,600 C101.6,594 105.4,588.2 109.3,582.5 C113.3,576.8 117.6,571.3 122,566 C126.5,560.7 131.2,555.5 136,550.6 C140.9,545.7 146.1,541 151.4,536.6 C156.7,532.1 162.2,527.9 167.9,523.9 C173.5,520 179.4,516.2 185.4,512.8 C191.4,509.3 197.6,506.1 203.9,503.2 C210.1,500.2 216.6,497.6 223.1,495.2 C229.6,492.8 236.2,490.7 242.9,489 C249.6,487.2 256.4,485.7 263.2,484.5 C270,483.3 276.9,482.3 283.8,481.7 C290.7,481.1 297.7,480.8 304.6,480.8 C311.5,480.8 318.5,481.1 325.4,481.7 C332.3,482.4 339.2,483.3 346,484.5 C352.8,485.7 359.6,487.2 366.3,489 C373,490.8 379.6,492.9 386.1,495.2 C392.6,497.6 399.1,500.3 405.3,503.2 C411.6,506.1 417.8,509.3 423.8,512.8 C429.8,516.2 435.6,520 441.3,523.9 C447,527.9 452.5,532.2 457.8,536.6 C463.1,541.1 468.2,545.8 473.1,550.7 C478,555.6 482.7,560.7 487.2,566 C491.6,571.3 495.9,576.8 499.9,582.5 C503.8,588.2 507.6,594 511,600 C514.5,606 517.7,612.2 520.6,618.5 C523.6,624.7 526.2,631.2 528.6,637.7 C530.9,644.2 533,650.8 534.8,657.5 C536.6,664.2 538.1,671 539.3,677.8 C540.5,684.6 541.4,691.5 542,698.4 C542.6,705.3 543,712.3 543,719.2Z" fill="none" stroke="#2e2a2a" stroke-width="1.25"/>
<path d="M552.2,719.2 C552.2,726.4 551.9,733.6 551.3,740.8 C550.6,747.9 549.7,755.1 548.4,762.2 C547.2,769.3 545.6,776.3 543.8,783.3 C541.9,790.2 539.7,797.1 537.3,803.9 C534.8,810.6 532,817.3 529,823.8 C526,830.4 522.6,836.8 519,843 C515.4,849.2 511.5,855.3 507.4,861.2 C503.3,867.1 498.9,872.8 494.3,878.4 C489.6,883.9 484.8,889.2 479.7,894.3 C474.6,899.4 469.3,904.2 463.8,908.9 C458.2,913.5 452.5,917.9 446.6,922 C440.7,926.1 434.6,930 428.4,933.6 C422.2,937.2 415.8,940.6 409.2,943.6 C402.7,946.6 396,949.4 389.3,951.9 C382.5,954.3 375.6,956.5 368.7,958.4 C361.7,960.2 354.7,961.8 347.6,963 C340.5,964.3 333.3,965.2 326.2,965.9 C319,966.5 311.8,966.8 304.6,966.8 C297.4,966.8 290.2,966.5 283,965.9 C275.9,965.2 268.7,964.3 261.6,963 C254.5,961.8 247.5,960.2 240.5,958.4 C233.6,956.5 226.7,954.3 219.9,951.9 C213.2,949.4 206.5,946.6 200,943.6 C193.4,940.6 187,937.2 180.8,933.6 C174.6,930 168.5,926.1 162.6,922 C156.7,917.9 151,913.5 145.4,908.9 C139.9,904.2 134.6,899.4 129.5,894.3 C124.4,889.2 119.6,883.9 114.9,878.4 C110.3,872.8 105.9,867.1 101.8,861.2 C97.7,855.3 93.8,849.2 90.2,843 C86.6,836.8 83.2,830.4 80.2,823.8 C77.2,817.3 74.4,810.6 71.9,803.9 C69.5,797.1 67.3,790.2 65.4,783.3 C63.6,776.3 62,769.3 60.8,762.2 C59.5,755.1 58.6,747.9 57.9,740.8 C57.3,733.6 57,726.4 57,719.2 C57,712 57.3,704.8 57.9,697.6 C58.6,690.5 59.5,683.3 60.8,676.2 C62,669.1 63.6,662.1 65.4,655.1 C67.3,648.2 69.5,641.3 71.9,634.5 C74.4,627.8 77.2,621.1 80.2,614.6 C83.2,608 86.6,601.6 90.2,595.4 C93.8,589.2 97.7,583.1 101.8,577.2 C105.9,571.3 110.3,565.6 114.9,560 C119.6,554.5 124.4,549.2 129.5,544.1 C134.6,539 139.9,534.2 145.4,529.5 C151,524.9 156.7,520.5 162.6,516.4 C168.5,512.3 174.6,508.4 180.8,504.8 C187,501.2 193.4,497.8 200,494.8 C206.5,491.8 213.2,489 219.9,486.5 C226.7,484.1 233.6,481.9 240.5,480 C247.5,478.2 254.5,476.6 261.6,475.4 C268.7,474.1 275.9,473.2 283,472.5 C290.2,471.9 297.4,471.6 304.6,471.6 C311.8,471.6 319,471.9 326.2,472.5 C333.3,473.2 340.5,474.1 347.6,475.4 C354.7,476.6 361.7,478.2 368.7,480 C375.6,481.9 382.5,484.1 389.3,486.5 C396,489 402.7,491.8 409.2,494.8 C415.8,497.8 422.2,501.2 428.4,504.8 C434.6,508.4 440.7,512.3 446.6,516.4 C452.5,520.5 458.2,524.9 463.8,529.5 C469.3,534.2 474.6,539 479.7,544.1 C484.8,549.2 489.6,554.5 494.3,560 C498.9,565.6 503.3,571.3 507.4,577.2 C511.5,583.1 515.4,589.2 519,595.4 C522.6,601.6 526,608 529,614.6 C532,621.1 534.8,627.8 537.3,634.5 C539.7,641.3 541.9,648.2 543.8,655.1 C545.6,662.1 547.2,669.1 548.4,676.2 C549.7,683.3 550.6,690.5 551.3,697.6 C551.9,704.8 552.2,712 552.2,719.2Z" fill="none" stroke="#2e2a2a" stroke-width="1.0"/>
<circle cx="304.6" cy="719.2" r="250.3" fill="none" stroke="#231f20" stroke-width="2.4"/>
<rect x="278.9" y="518.8" width="46.4" height="46.8" fill="none" stroke="#231f20" stroke-width="2.3"/>
<rect x="208.4" y="583.4" width="204.8" height="34.5" fill="none" stroke="#231f20" stroke-width="2.3"/>
<rect x="372.1" y="704.9" width="169.5" height="34.8" fill="none" stroke="#231f20" stroke-width="2.3"/>
<rect x="477.2" y="758.1" width="46.3" height="46.5" fill="none" stroke="#231f20" stroke-width="2.3"/>
<rect x="366" y="828" width="134.3" height="23.4" fill="none" stroke="#231f20" stroke-width="2.3"/>
<rect x="389.6" y="874.7" width="46.7" height="46.7" fill="none" stroke="#231f20" stroke-width="2.3"/>
<path d="M239.1,446.4 C239.2,500 244,535 261,563" fill="none" stroke="#2e2a2a" stroke-width="1.1"/>
<path d="M540,755.4 C568,756 606,770 626,795.3" fill="none" stroke="#2e2a2a" stroke-width="1.1"/>
<path d="M449.8,876.5 L441,926 C436,955 421,985 392.8,1008.8" fill="none" stroke="#2e2a2a" stroke-width="1.1"/>
<circle cx="265.1" cy="569.2" r="7.3" fill="#ffffff" stroke="#4a4646" stroke-width="1.2"/>
<circle cx="533.4" cy="755.4" r="7.3" fill="#ffffff" stroke="#4a4646" stroke-width="1.2"/>
<circle cx="450.5" cy="868.6" r="7.3" fill="#ffffff" stroke="#4a4646" stroke-width="1.2"/>
<path d="M655.6,687.8 L809.9,583.5 L1074.4,589.1 L1075.5,644.1 L977.5,762.4 L658.5,754.5Z" fill="#e8dfc8" stroke="none"/>
<path d="M663.1,688 Q673.6,722 659,754.5" fill="none" stroke="#2e2a2a" stroke-width="1.2"/>
<path d="M663.1,688 L825.7,583.8" fill="none" stroke="#2e2a2a" stroke-width="1.2"/>
<path d="M679.8,688.4 Q689.4,722.4 675.9,754.9" fill="none" stroke="#2e2a2a" stroke-width="1.2"/>
<path d="M679.8,688.4 L839,584.1" fill="none" stroke="#2e2a2a" stroke-width="1.2"/>
<path d="M696.5,688.9 Q705.2,722.7 692.9,755.4" fill="none" stroke="#2e2a2a" stroke-width="1.2"/>
<path d="M696.5,688.9 L852.3,584.4" fill="none" stroke="#2e2a2a" stroke-width="1.2"/>
<path d="M713.2,689.3 Q721,723 709.8,755.8" fill="none" stroke="#2e2a2a" stroke-width="1.2"/>
<path d="M713.2,689.3 L865.6,584.7" fill="none" stroke="#2e2a2a" stroke-width="1.2"/>
<path d="M729.9,689.8 Q736.9,723.4 726.7,756.2" fill="none" stroke="#2e2a2a" stroke-width="1.2"/>
<path d="M729.9,689.8 L878.9,585" fill="none" stroke="#2e2a2a" stroke-width="1.2"/>
<path d="M746.6,690.2 Q752.9,723.8 743.6,756.6" fill="none" stroke="#2e2a2a" stroke-width="1.2"/>
<path d="M746.6,690.2 L892.2,585.2" fill="none" stroke="#2e2a2a" stroke-width="1.2"/>
<path d="M763.3,690.7 Q769,724.1 760.6,757" fill="none" stroke="#2e2a2a" stroke-width="1.2"/>
<path d="M763.3,690.7 L905.5,585.5" fill="none" stroke="#2e2a2a" stroke-width="1.2"/>
<path d="M780,691.1 Q785.1,724.5 777.5,757.4" fill="none" stroke="#2e2a2a" stroke-width="1.2"/>
<path d="M780,691.1 L918.8,585.8" fill="none" stroke="#2e2a2a" stroke-width="1.2"/>
<path d="M796.7,691.6 Q801.2,724.9 794.4,757.9" fill="none" stroke="#2e2a2a" stroke-width="1.2"/>
<path d="M796.7,691.6 L932.1,586.1" fill="none" stroke="#2e2a2a" stroke-width="1.2"/>
<path d="M813.4,692 Q817.5,725.3 811.4,758.3" fill="none" stroke="#2e2a2a" stroke-width="1.2"/>
<path d="M813.4,692 L945.4,586.4" fill="none" stroke="#2e2a2a" stroke-width="1.2"/>
<path d="M830.1,692.5 Q833.8,725.7 828.3,758.7" fill="none" stroke="#2e2a2a" stroke-width="1.2"/>
<path d="M830.1,692.5 L958.7,586.7" fill="none" stroke="#2e2a2a" stroke-width="1.2"/>
<path d="M846.8,692.9 Q850.1,726.1 845.2,759.1" fill="none" stroke="#2e2a2a" stroke-width="1.2"/>
<path d="M846.8,692.9 L972,586.9" fill="none" stroke="#2e2a2a" stroke-width="1.2"/>
<path d="M863.5,693.4 Q866.5,726.5 862.1,759.5" fill="none" stroke="#2e2a2a" stroke-width="1.2"/>
<path d="M863.5,693.4 L985.3,587.2" fill="none" stroke="#2e2a2a" stroke-width="1.2"/>
<path d="M880.2,693.8 Q883,726.9 879.1,760" fill="none" stroke="#2e2a2a" stroke-width="1.2"/>
<path d="M880.2,693.8 L998.6,587.5" fill="none" stroke="#2e2a2a" stroke-width="1.2"/>
<path d="M896.9,694.3 Q899.5,727.4 896,760.4" fill="none" stroke="#2e2a2a" stroke-width="1.2"/>
<path d="M896.9,694.3 L1011.9,587.8" fill="none" stroke="#2e2a2a" stroke-width="1.2"/>
<path d="M913.6,694.7 Q916.1,727.8 912.9,760.8" fill="none" stroke="#2e2a2a" stroke-width="1.2"/>
<path d="M913.6,694.7 L1025.2,588.1" fill="none" stroke="#2e2a2a" stroke-width="1.2"/>
<path d="M930.3,695.2 Q932.8,728.2 929.8,761.2" fill="none" stroke="#2e2a2a" stroke-width="1.2"/>
<path d="M930.3,695.2 L1038.5,588.3" fill="none" stroke="#2e2a2a" stroke-width="1.2"/>
<path d="M947,695.6 Q949.5,728.6 946.8,761.6" fill="none" stroke="#2e2a2a" stroke-width="1.2"/>
<path d="M947,695.6 L1051.8,588.6" fill="none" stroke="#2e2a2a" stroke-width="1.2"/>
<path d="M963.7,696.1 Q966.3,729.1 963.7,762.1" fill="none" stroke="#2e2a2a" stroke-width="1.2"/>
<path d="M963.7,696.1 L1065.1,588.9" fill="none" stroke="#2e2a2a" stroke-width="1.2"/>
<path d="M655.6,687.8 L809.9,583.5 L1074.4,589.1 L1075.5,644.1 L977.5,762.4 L658.5,754.5Z M655.6,687.8 L976.4,696.4 L1074.4,589.1 M976.4,696.4 L977.5,762.4" fill="none" stroke="#231f20" stroke-width="2.1" stroke-linejoin="round" stroke-linecap="round"/>
<path d="M958.8,858.4 L1050.4,733.4 L1124.9,735.4 L1125.4,808.1 L1049.4,948.7 L960.1,945.2Z" fill="#e8dfc8" stroke="none"/>
<path d="M976,859 L1062.5,734" fill="none" stroke="#2e2a2a" stroke-width="1.2"/>
<path d="M992.8,859.5 L1076.8,734.4" fill="none" stroke="#2e2a2a" stroke-width="1.2"/>
<path d="M1010.1,860 L1090.7,734.8" fill="none" stroke="#2e2a2a" stroke-width="1.2"/>
<path d="M1027.2,860.2 L1106.1,735" fill="none" stroke="#2e2a2a" stroke-width="1.2"/>
<path d="M1044,860.5 L1120,736" fill="none" stroke="#2e2a2a" stroke-width="1.2"/>
<path d="M975.2,859 Q968.6,884.4 959.5,909" fill="none" stroke="#2e2a2a" stroke-width="1.2"/>
<path d="M992,859.5 Q980,903.2 963.8,945.6" fill="none" stroke="#2e2a2a" stroke-width="1.2"/>
<path d="M1009.6,860 Q998.3,903.6 982.8,946" fill="none" stroke="#2e2a2a" stroke-width="1.2"/>
<path d="M1027.2,860.2 Q1016.3,904 1001.2,946.5" fill="none" stroke="#2e2a2a" stroke-width="1.2"/>
<path d="M1044,860.5 Q1033.6,904.4 1019,947" fill="none" stroke="#2e2a2a" stroke-width="1.2"/>
<path d="M1048.6,917 Q1043.3,932.6 1036.5,947.6" fill="none" stroke="#2e2a2a" stroke-width="1.2"/>
<path d="M1049.4,908.8 L1124.9,780.4" fill="none" stroke="#2e2a2a" stroke-width="1.2"/>
<path d="M958.8,858.4 L1050.4,733.4 L1124.9,735.4 L1125.4,808.1 L1049.4,948.7 L960.1,945.2Z M958.8,858.4 L1048.2,860.6 L1124.9,735.4 M1048.2,860.6 L1049.4,948.7" fill="none" stroke="#231f20" stroke-width="2.1" stroke-linejoin="round" stroke-linecap="round"/>
<path d="M481.3,1120.1 L632.3,955.9 L836.8,962.8 L837.8,998.2 L728.8,1171.5 L482.9,1161.7Z" fill="#e8dfc8" stroke="none"/>
<path d="M510.3,1121.3 L658.5,956.8" fill="none" stroke="#2e2a2a" stroke-width="1.2"/>
<path d="M536.4,1122.3 L678.8,957.5" fill="none" stroke="#2e2a2a" stroke-width="1.2"/>
<path d="M562.6,1123.4 L699,958.2" fill="none" stroke="#2e2a2a" stroke-width="1.2"/>
<path d="M584.2,1124.3 L717.7,958.8" fill="none" stroke="#2e2a2a" stroke-width="1.2"/>
<path d="M604.7,1125.1 L735.5,959.4" fill="none" stroke="#2e2a2a" stroke-width="1.2"/>
<path d="M625.1,1125.9 L751.9,959.9" fill="none" stroke="#2e2a2a" stroke-width="1.2"/>
<path d="M645.6,1126.8 L768.1,960.5" fill="none" stroke="#2e2a2a" stroke-width="1.2"/>
<path d="M666.1,1127.6 L783.9,961" fill="none" stroke="#2e2a2a" stroke-width="1.2"/>
<path d="M684.3,1128.3 L799.7,961.5" fill="none" stroke="#2e2a2a" stroke-width="1.2"/>
<path d="M703.6,1129.1 L815.5,962.1" fill="none" stroke="#2e2a2a" stroke-width="1.2"/>
<path d="M723,1129.9 L829.3,962.5" fill="none" stroke="#2e2a2a" stroke-width="1.2"/>
<path d="M488.4,1120.5 L634.8,956.2" fill="none" stroke="#2e2a2a" stroke-width="1.2"/>
<path d="M729,1127.5 L834.8,965.5" fill="none" stroke="#2e2a2a" stroke-width="1.2"/>
<path d="M482.8,1141.3 Q499,1133.7 512.4,1122" fill="none" stroke="#2e2a2a" stroke-width="1.2"/>
<path d="M483.5,1159.7 Q513,1145.4 537.5,1123.5" fill="none" stroke="#2e2a2a" stroke-width="1.2"/>
<path d="M512.9,1162.5 Q539.8,1147.2 561.5,1125" fill="none" stroke="#2e2a2a" stroke-width="1.2"/>
<path d="M540.8,1164 Q564.9,1148.2 583.8,1126.3" fill="none" stroke="#2e2a2a" stroke-width="1.2"/>
<path d="M566,1165.5 Q587.3,1149.1 603.3,1127.5" fill="none" stroke="#2e2a2a" stroke-width="1.2"/>
<path d="M591,1167 Q610.7,1150 625,1128.2" fill="none" stroke="#2e2a2a" stroke-width="1.2"/>
<path d="M612.6,1167.8 Q631.9,1150.5 645.6,1128.5" fill="none" stroke="#2e2a2a" stroke-width="1.2"/>
<path d="M634.2,1168.6 Q652.9,1150.9 666.1,1128.8" fill="none" stroke="#2e2a2a" stroke-width="1.2"/>
<path d="M654.7,1169.3 Q672.3,1151.3 684.3,1129.2" fill="none" stroke="#2e2a2a" stroke-width="1.2"/>
<path d="M675.2,1170 Q692.2,1151.8 703.6,1129.6" fill="none" stroke="#2e2a2a" stroke-width="1.2"/>
<path d="M695.7,1170.6 Q712.2,1152.2 723,1130" fill="none" stroke="#2e2a2a" stroke-width="1.2"/>
<path d="M715.6,1171.2 Q722.9,1161.4 727.3,1150" fill="none" stroke="#2e2a2a" stroke-width="1.2"/>
<path d="M727,1153.7 L837.2,982" fill="none" stroke="#2e2a2a" stroke-width="1.2"/>
<path d="M481.3,1120.1 L632.3,955.9 L836.8,962.8 L837.8,998.2 L728.8,1171.5 L482.9,1161.7Z M481.3,1120.1 L727.5,1130.1 L836.8,962.8 M727.5,1130.1 L728.8,1171.5" fill="none" stroke="#231f20" stroke-width="2.1" stroke-linejoin="round" stroke-linecap="round"/>
<path d="M191.8,1289 L380.4,1115 L449.5,1117.3 L452.8,1185.5 L279.2,1372.5 L196.5,1369.3Z" fill="#e8dfc8" stroke="none"/>
<path d="M197.8,1290.2 L385.8,1115.3" fill="none" stroke="#2e2a2a" stroke-width="1.2"/>
<path d="M226,1290.3 L408.9,1115.9" fill="none" stroke="#2e2a2a" stroke-width="1.2"/>
<path d="M252.1,1291.2 L430,1116.6" fill="none" stroke="#2e2a2a" stroke-width="1.2"/>
<path d="M193.9,1310.5 Q211.1,1302.6 225.5,1290.2" fill="none" stroke="#2e2a2a" stroke-width="1.2"/>
<path d="M194.9,1327.3 Q225.5,1313.3 251.1,1291.5" fill="none" stroke="#2e2a2a" stroke-width="1.2"/>
<path d="M196.4,1343.5 Q238.4,1324.2 273.4,1294.2" fill="none" stroke="#2e2a2a" stroke-width="1.2"/>
<path d="M197.3,1360.3 Q239.1,1343.8 274.8,1316.4" fill="none" stroke="#2e2a2a" stroke-width="1.2"/>
<path d="M219.1,1369.8 Q250.2,1356.3 276.3,1334.7" fill="none" stroke="#2e2a2a" stroke-width="1.2"/>
<path d="M249.2,1371.2 Q264.8,1364.1 277.8,1352.9" fill="none" stroke="#2e2a2a" stroke-width="1.2"/>
<path d="M192.9,1292.7 L197.8,1290.2" fill="none" stroke="#2e2a2a" stroke-width="1.2"/>
<path d="M276.5,1293.5 L449.5,1120.5" fill="none" stroke="#2e2a2a" stroke-width="1.2"/>
<path d="M275,1315.5 L451,1137.2" fill="none" stroke="#2e2a2a" stroke-width="1.2"/>
<path d="M276.5,1333.8 L451.6,1153.5" fill="none" stroke="#2e2a2a" stroke-width="1.2"/>
<path d="M278,1352 L452.2,1169.4" fill="none" stroke="#2e2a2a" stroke-width="1.2"/>
<path d="M191.8,1289 L380.4,1115 L449.5,1117.3 L452.8,1185.5 L279.2,1372.5 L196.5,1369.3Z M191.8,1289 L274.3,1292.2 L449.5,1117.3 M274.3,1292.2 L279.2,1372.5" fill="none" stroke="#231f20" stroke-width="2.1" stroke-linejoin="round" stroke-linecap="round"/>
<g font-family="Liberation Sans, sans-serif" fill="#231f20" stroke="#f1f0e5" stroke-width="0" paint-order="normal">
<text x="485" y="60.8" font-size="29" font-weight="bold" stroke-width="0" textLength="156" lengthAdjust="spacingAndGlyphs">Plain-sawn</text>
<text x="485" y="92.6" font-size="29" textLength="540.5" lengthAdjust="spacingAndGlyphs">End grain is between 0° and 45° to face.</text>
<text x="484.5" y="125.6" font-size="29" textLength="584" lengthAdjust="spacingAndGlyphs">Typical arched or “cathedral” grain pattern</text>
<text x="564.5" y="433.9" font-size="29" font-weight="bold" stroke-width="0" textLength="190.5" lengthAdjust="spacingAndGlyphs">Quartersawn</text>
<text x="565" y="466.7" font-size="29" textLength="487.5" lengthAdjust="spacingAndGlyphs">End grain is between 60° and 90° to</text>
<text x="565.5" y="498.8" font-size="29" textLength="471" lengthAdjust="spacingAndGlyphs">face. Typical straight grain pattern,</text>
<text x="565.5" y="531" font-size="29" textLength="323.5" lengthAdjust="spacingAndGlyphs">flecked in some species</text>
<text x="485" y="1245" font-size="29" font-weight="bold" stroke-width="0" textLength="135.5" lengthAdjust="spacingAndGlyphs">Rift-sawn</text>
<text x="485" y="1277.5" font-size="29" textLength="557" lengthAdjust="spacingAndGlyphs">End grain is between 45° and 60° to face.</text>
<text x="485" y="1310.5" font-size="29" textLength="568" lengthAdjust="spacingAndGlyphs">Typical straight grain pattern on both face</text>
<text x="485" y="1342.5" font-size="29" textLength="138.5" lengthAdjust="spacingAndGlyphs">and edges</text>
<text x="183.5" y="436.8" font-size="29" textLength="150.5" lengthAdjust="spacingAndGlyphs">Plain-sawn</text>
<text x="564.5" y="828.4" font-size="29" textLength="182.5" lengthAdjust="spacingAndGlyphs">Quartersawn</text>
<text x="288.5" y="1027.4" font-size="29" textLength="131" lengthAdjust="spacingAndGlyphs">Rift-sawn</text>
</g>
</svg>
</body></html>
